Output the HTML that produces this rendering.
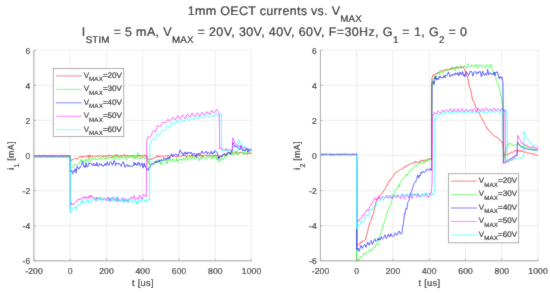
<!DOCTYPE html>
<html><head><meta charset="utf-8"><style>
html,body{margin:0;padding:0;background:#fff;width:550px;height:293px;overflow:hidden}
svg{display:block}
text{font-family:"Liberation Sans",Arial,sans-serif;fill:#262626;text-rendering:geometricPrecision;stroke:#262626;stroke-width:0.18px}
.tl{font-size:8.6px;letter-spacing:0.08px;fill:#333;stroke:#333}
.lg{font-size:8px;letter-spacing:0.02px;fill:#222;stroke:#222}
.lgs{font-size:6.2px;letter-spacing:0.15px}
.ttl{font-size:12.5px;letter-spacing:0.38px;fill:#111;stroke:#111}
.ttl1{letter-spacing:0.3px}
.sub{font-size:9.8px;letter-spacing:0.1px}
.al{font-size:9.3px;letter-spacing:0.28px;fill:#262626}
.als{font-size:7px}
.yl{font-size:9px;letter-spacing:0.22px}
polyline{fill:none;stroke-width:0.65;stroke-linejoin:round}
</style></head><body>
<svg width="550" height="293" viewBox="0 0 550 293">
<defs><filter id="soft" x="0" y="0" width="550" height="293" filterUnits="userSpaceOnUse"><feConvolveMatrix order="3" kernelMatrix="1 2 1 2 24 2 1 2 1" divisor="36" edgeMode="duplicate" preserveAlpha="true"/></filter></defs>
<g filter="url(#soft)">
<rect width="550" height="293" fill="#fff"/>
<path d="M33.90 50.20V260.80M70.17 50.20V260.80M106.43 50.20V260.80M142.70 50.20V260.80M178.97 50.20V260.80M215.23 50.20V260.80M251.50 50.20V260.80M33.90 260.80H251.50M33.90 225.70H251.50M33.90 190.60H251.50M33.90 155.50H251.50M33.90 120.40H251.50M33.90 85.30H251.50M33.90 50.20H251.50" stroke="#e6e6e6" stroke-width="0.7" fill="none"/>
<path d="M320.40 50.20V260.80M356.67 50.20V260.80M392.93 50.20V260.80M429.20 50.20V260.80M465.47 50.20V260.80M501.73 50.20V260.80M538.00 50.20V260.80M320.40 260.80H538.00M320.40 225.70H538.00M320.40 190.60H538.00M320.40 155.50H538.00M320.40 120.40H538.00M320.40 85.30H538.00M320.40 50.20H538.00" stroke="#e6e6e6" stroke-width="0.7" fill="none"/>
<g>
<polyline points="33.90,155.92 34.35,155.85 34.81,155.85 35.26,156.17 35.71,156.09 36.17,155.82 36.62,156.04 37.07,156.02 37.53,155.88 37.98,155.93 38.43,155.98 38.89,155.94 39.34,156.06 39.79,156.16 40.25,156.12 40.70,156.01 41.15,155.93 41.61,156.06 42.06,156.19 42.51,156.18 42.97,156.06 43.42,156.07 43.87,155.87 44.33,155.68 44.78,156.28 45.23,156.72 45.69,156.34 46.14,156.12 46.59,156.06 47.05,155.96 47.50,155.68 47.95,155.88 48.41,156.25 48.86,155.78 49.31,155.62 49.77,155.83 50.22,156.00 50.67,156.35 51.13,156.25 51.58,155.98 52.03,156.19 52.49,156.31 52.94,156.14 53.39,156.18 53.85,156.18 54.30,156.03 54.75,156.01 55.21,156.10 55.66,156.01 56.11,155.80 56.57,155.84 57.02,156.10 57.47,156.04 57.93,155.99 58.38,155.97 58.83,156.06 59.29,156.05 59.74,155.89 60.19,156.22 60.65,156.26 61.10,156.07 61.55,155.98 62.01,156.13 62.46,156.34 62.91,156.16 63.37,156.07 63.82,156.06 64.27,155.88 64.73,156.16 65.18,156.24 65.63,155.80 66.09,155.89 66.54,156.19 66.99,156.04 67.45,155.88 67.90,155.85 68.35,155.94 68.81,156.30 69.26,156.27 69.71,156.11 70.17,155.79 70.26,159.89 70.62,160.73 71.07,161.21 71.53,160.08 71.98,159.23 72.43,159.82 72.89,160.06 73.34,159.38 73.79,158.95 74.25,158.54 74.70,158.40 75.15,158.59 75.61,158.74 76.06,158.19 76.51,158.98 76.97,159.42 77.42,158.34 77.87,158.65 78.33,158.28 78.78,157.71 79.23,157.25 79.69,156.87 80.14,156.89 80.59,156.26 81.05,156.32 81.50,157.25 81.95,157.99 82.41,156.73 82.86,156.00 83.31,156.91 83.77,156.67 84.22,156.48 84.67,156.23 85.13,156.17 85.58,156.58 86.03,156.92 86.49,156.60 86.94,156.60 87.39,156.39 87.85,155.16 88.30,156.02 88.75,157.76 89.21,156.89 89.66,154.80 90.11,155.53 90.57,157.15 91.02,156.38 91.47,156.11 91.93,156.49 92.38,156.19 92.83,155.77 93.29,155.88 93.74,156.07 94.19,156.06 94.65,156.62 95.10,156.61 95.55,156.56 96.01,156.33 96.46,156.31 96.91,156.71 97.37,155.69 97.82,155.33 98.27,156.06 98.73,155.90 99.18,156.09 99.63,156.31 100.09,155.86 100.54,155.55 100.99,156.13 101.45,155.89 101.90,155.73 102.35,156.62 102.81,156.84 103.26,156.64 103.71,155.52 104.17,155.77 104.62,156.30 105.07,156.62 105.53,156.60 105.98,155.36 106.43,155.55 106.89,156.28 107.34,156.17 107.79,155.67 108.25,155.39 108.70,154.76 109.15,154.86 109.61,155.86 110.06,155.96 110.51,155.83 110.97,155.81 111.42,155.87 111.87,155.93 112.33,156.63 112.78,156.26 113.23,155.70 113.69,156.46 114.14,155.85 114.59,154.82 115.05,154.96 115.50,155.54 115.95,156.23 116.41,155.16 116.86,154.31 117.31,155.93 117.77,156.55 118.22,155.93 118.67,156.19 119.13,156.23 119.58,155.85 120.03,155.48 120.49,154.96 120.94,156.67 121.39,156.97 121.85,156.42 122.30,155.87 122.75,155.02 123.21,155.25 123.66,155.86 124.11,155.40 124.57,154.16 125.02,155.48 125.47,156.15 125.93,155.89 126.38,155.96 126.83,156.12 127.29,155.23 127.74,155.16 128.19,156.17 128.65,155.63 129.10,155.86 129.55,156.24 130.01,156.12 130.46,155.98 130.91,156.15 131.37,156.18 131.82,155.73 132.27,155.77 132.73,155.74 133.18,155.81 133.63,155.59 134.09,155.61 134.54,155.89 134.99,155.95 135.45,156.02 135.90,156.18 136.35,155.77 136.81,155.80 137.26,156.42 137.71,155.87 138.17,155.46 138.62,155.71 139.07,156.65 139.53,156.21 139.98,155.15 140.43,155.85 140.89,155.72 141.34,155.50 141.79,156.39 142.25,156.13 142.70,155.76 143.15,155.63 143.61,156.14 144.06,155.36 144.51,154.84 144.97,156.27 145.42,155.83 145.87,155.41 146.33,155.62 146.78,155.69 147.23,155.82 147.69,159.29 147.78,160.32 148.14,159.92 148.59,159.52 149.05,159.91 149.50,159.55 149.95,158.89 150.41,158.92 150.86,159.38 151.31,158.90 151.77,159.01 152.22,159.44 152.67,158.39 153.13,158.26 153.58,158.04 154.03,157.38 154.49,156.91 154.94,157.18 155.39,157.73 155.85,157.14 156.30,157.77 156.75,156.45 157.21,155.55 157.66,157.04 158.11,156.35 158.57,156.08 159.02,157.24 159.47,156.98 159.93,155.89 160.38,156.22 160.83,156.56 161.29,156.07 161.74,156.24 162.19,156.18 162.65,155.79 163.10,156.35 163.55,157.11 164.01,157.00 164.46,156.81 164.91,156.20 165.37,155.67 165.82,155.67 166.27,155.58 166.73,155.79 167.18,156.27 167.63,156.17 168.09,155.16 168.54,155.66 168.99,156.64 169.45,156.48 169.90,156.34 170.35,156.48 170.81,156.12 171.26,156.01 171.71,155.53 172.17,155.49 172.62,156.05 173.07,155.71 173.53,155.88 173.98,155.58 174.43,155.63 174.89,156.50 175.34,156.34 175.79,156.13 176.25,156.65 176.70,156.70 177.15,156.89 177.61,156.28 178.06,155.51 178.51,156.29 178.97,156.54 179.42,156.34 179.87,156.08 180.33,156.44 180.78,156.82 181.23,156.54 181.69,156.45 182.14,155.89 182.59,155.09 183.05,155.39 183.50,155.58 183.95,156.08 184.41,156.09 184.86,155.62 185.31,155.77 185.77,155.15 186.22,156.37 186.67,156.84 187.13,156.25 187.58,156.01 188.03,156.01 188.49,156.47 188.94,155.90 189.39,155.51 189.85,155.65 190.30,156.33 190.75,156.56 191.21,155.75 191.66,155.42 192.11,156.42 192.57,155.97 193.02,155.14 193.47,155.21 193.93,155.61 194.38,155.71 194.83,156.09 195.29,156.10 195.74,155.77 196.19,155.63 196.65,154.90 197.10,155.46 197.55,155.99 198.01,155.74 198.46,155.29 198.91,155.09 199.37,156.11 199.82,156.13 200.27,155.20 200.73,154.39 201.18,155.33 201.63,156.49 202.09,155.29 202.54,155.72 202.99,156.89 203.45,156.17 203.90,155.15 204.35,155.56 204.81,155.67 205.26,155.25 205.71,154.75 206.17,154.88 206.62,155.19 207.07,155.66 207.53,156.24 207.98,155.93 208.43,155.27 208.89,154.89 209.34,155.60 209.79,155.46 210.25,154.81 210.70,155.23 211.15,155.75 211.61,155.87 212.06,156.56 212.51,156.36 212.97,155.44 213.42,155.80 213.87,155.49 214.33,155.61 214.78,156.23 215.23,155.93 215.69,154.93 216.14,155.49 216.59,156.16 217.05,154.99 217.50,154.97 217.95,154.78 218.41,156.74 218.50,158.49 218.86,157.56 219.31,157.00 219.77,157.37 220.22,157.26 220.67,156.57 221.13,155.52 221.58,155.99 222.03,155.70 222.49,155.07 222.94,155.24 223.39,155.11 223.85,155.04 224.30,154.70 224.75,154.38 225.21,154.69 225.66,154.14 226.11,153.97 226.57,154.13 227.02,153.53 227.47,152.89 227.93,153.30 228.38,153.21 228.83,152.94 229.29,153.79 229.74,154.12 230.19,153.64 230.65,153.18 231.10,153.74 231.55,154.09 232.01,153.79 232.46,153.62 232.91,152.94 233.37,152.09 233.82,152.29 234.27,152.71 234.73,153.19 235.18,153.25 235.63,152.62 236.09,151.66 236.54,151.74 236.99,152.87 237.45,153.35 237.90,153.54 238.35,153.98 238.81,153.78 239.26,153.29 239.71,152.36 240.17,152.35 240.62,152.54 241.07,151.91 241.53,152.56 241.98,152.74 242.43,152.57 242.89,153.45 243.34,153.57 243.79,153.32 244.25,153.46 244.70,153.48 245.15,153.37 245.61,153.21 246.06,153.75 246.51,154.05 246.97,154.42 247.42,154.26 247.87,153.27 248.33,153.24 248.78,153.32 249.23,153.08 249.69,153.59 250.14,154.05 250.59,153.65 251.05,153.23 251.50,153.34" stroke="#ff0000"/>
<polyline points="33.90,157.28 34.35,157.31 34.81,157.40 35.26,157.68 35.71,157.35 36.17,156.81 36.62,157.13 37.07,157.19 37.53,157.10 37.98,157.30 38.43,157.19 38.89,157.15 39.34,157.35 39.79,157.42 40.25,157.31 40.70,157.20 41.15,157.19 41.61,157.26 42.06,157.33 42.51,157.37 42.97,157.26 43.42,157.10 43.87,157.18 44.33,157.14 44.78,157.35 45.23,157.29 45.69,156.83 46.14,157.19 46.59,157.76 47.05,157.74 47.50,157.35 47.95,157.11 48.41,157.07 48.86,156.98 49.31,157.11 49.77,157.18 50.22,157.24 50.67,157.15 51.13,157.29 51.58,157.49 52.03,157.28 52.49,156.95 52.94,157.10 53.39,157.53 53.85,157.50 54.30,157.19 54.75,157.14 55.21,157.09 55.66,157.34 56.11,157.37 56.57,156.93 57.02,157.31 57.47,157.45 57.93,157.05 58.38,157.06 58.83,157.09 59.29,156.75 59.74,156.86 60.19,157.26 60.65,157.41 61.10,157.27 61.55,157.19 62.01,157.31 62.46,157.30 62.91,157.17 63.37,157.32 63.82,157.65 64.27,157.85 64.73,157.44 65.18,157.06 65.63,157.02 66.09,157.03 66.54,157.37 66.99,157.29 67.45,157.19 67.90,157.46 68.35,157.58 68.81,157.12 69.26,156.94 69.71,157.14 70.17,157.60 70.26,169.26 70.62,167.82 71.07,166.69 71.53,167.31 71.98,167.35 72.43,167.56 72.89,167.40 73.34,165.87 73.79,166.00 74.25,165.10 74.70,164.30 75.15,164.78 75.61,165.01 76.06,165.40 76.51,164.81 76.97,164.78 77.42,164.69 77.87,164.21 78.33,163.63 78.78,164.07 79.23,163.73 79.69,162.29 79.96,161.44 80.14,161.36 80.59,159.91 81.05,159.67 81.50,161.45 81.95,159.76 82.41,160.38 82.86,161.37 83.31,161.57 83.77,162.32 84.22,162.62 84.67,161.71 85.13,159.81 85.58,160.91 86.03,159.77 86.49,158.70 86.94,160.25 87.39,161.44 87.85,161.03 88.30,160.09 88.75,159.00 89.21,158.15 89.66,159.51 89.93,160.73 90.11,160.75 90.57,161.68 91.02,161.54 91.47,160.11 91.93,158.65 92.38,157.10 92.83,158.44 93.29,159.35 93.74,159.38 94.19,158.51 94.65,157.77 95.10,158.53 95.55,158.77 96.01,159.44 96.46,158.87 96.91,158.85 97.37,159.05 97.82,160.05 98.27,159.35 98.73,158.38 99.18,157.11 99.63,156.53 100.09,157.33 100.54,158.54 100.99,159.42 101.45,158.91 101.90,159.21 102.35,158.10 102.81,157.55 103.26,157.55 103.71,157.08 104.17,157.14 104.62,158.15 105.07,159.35 105.53,159.50 105.98,158.18 106.43,158.87 106.89,158.49 107.34,157.39 107.79,158.53 108.25,157.77 108.70,156.64 109.15,156.80 109.61,157.68 110.06,157.52 110.51,156.83 110.97,158.12 111.42,157.94 111.87,156.77 112.33,158.70 112.78,158.59 113.23,157.64 113.69,157.00 114.14,155.75 114.59,157.85 115.05,159.52 115.50,158.26 115.95,157.37 116.41,155.88 116.86,154.77 117.31,156.56 117.77,157.07 118.22,158.81 118.67,159.23 119.13,156.59 119.58,156.58 120.03,157.42 120.49,156.75 120.94,155.05 121.39,155.72 121.85,158.49 122.30,157.50 122.75,157.70 123.21,158.05 123.66,156.65 124.11,156.47 124.57,157.06 125.02,157.13 125.47,156.62 125.93,158.71 126.38,160.10 126.83,158.61 127.29,155.70 127.74,155.74 128.19,157.07 128.65,157.73 129.10,157.46 129.55,156.60 130.01,156.57 130.46,157.24 130.91,156.40 131.37,154.96 131.82,157.28 132.27,156.93 132.73,155.36 133.18,157.14 133.63,158.79 134.09,157.52 134.54,155.72 134.99,157.08 135.45,159.28 135.90,158.33 136.35,157.15 136.81,158.00 137.26,154.95 137.71,152.54 138.17,154.37 138.62,156.76 139.07,157.38 139.53,159.08 139.98,159.11 140.43,157.54 140.89,158.24 141.34,158.72 141.79,157.69 142.25,156.77 142.70,157.44 143.15,156.89 143.61,157.28 144.06,158.51 144.51,158.85 144.97,158.23 145.42,156.64 145.87,156.88 146.33,157.35 146.78,157.94 147.23,158.42 147.69,162.83 147.78,164.38 148.14,161.99 148.59,160.64 149.05,163.00 149.50,164.59 149.95,164.30 150.41,164.39 150.86,163.56 151.31,163.01 151.77,163.39 152.22,163.51 152.67,163.93 153.13,164.50 153.58,165.35 154.03,164.63 154.49,163.50 154.94,162.54 155.39,161.96 155.85,160.87 156.30,160.62 156.75,162.34 157.21,162.17 157.66,162.07 158.11,161.07 158.57,159.67 159.02,162.10 159.47,162.26 159.93,160.91 160.38,163.87 160.83,164.64 161.29,162.50 161.74,163.00 162.19,163.21 162.65,162.79 163.10,161.92 163.55,161.29 164.01,159.70 164.46,159.82 164.91,160.55 165.37,159.76 165.82,160.44 166.27,161.75 166.73,163.79 167.18,163.83 167.63,161.57 168.09,159.32 168.54,159.02 168.99,159.45 169.45,160.80 169.90,160.35 170.35,159.00 170.81,160.94 171.26,161.60 171.71,161.54 172.17,159.91 172.62,158.49 173.07,160.02 173.53,160.33 173.98,160.22 174.43,160.91 174.89,161.76 175.34,161.98 175.79,161.91 176.25,160.48 176.70,157.71 177.15,159.70 177.61,161.63 178.06,159.80 178.51,160.22 178.97,159.92 179.42,159.55 179.87,158.94 180.33,158.86 180.78,160.03 181.23,159.35 181.69,159.32 182.14,160.79 182.59,160.41 183.05,158.10 183.50,158.09 183.95,158.85 184.41,159.96 184.86,160.14 185.31,158.31 185.77,157.96 186.22,156.62 186.67,156.73 187.13,159.36 187.58,160.80 188.03,159.43 188.49,158.09 188.94,157.77 189.39,156.94 189.85,156.04 190.30,155.58 190.75,157.47 191.21,158.59 191.66,157.79 192.11,158.58 192.57,157.87 193.02,155.54 193.47,155.55 193.93,156.99 194.38,157.86 194.83,158.91 195.29,159.24 195.74,158.43 196.19,158.01 196.65,157.54 197.10,157.31 197.55,156.38 198.01,157.99 198.46,158.55 198.91,159.01 199.37,161.01 199.82,159.16 200.27,157.07 200.73,156.80 201.18,158.46 201.63,159.22 202.09,158.21 202.54,156.87 202.99,156.65 203.45,156.81 203.90,157.14 204.35,158.06 204.81,158.02 205.26,157.70 205.71,158.32 206.17,159.12 206.62,157.50 207.07,155.07 207.53,155.11 207.98,156.63 208.43,157.57 208.89,157.32 209.34,156.59 209.79,155.69 210.25,155.46 210.70,157.14 211.15,157.98 211.61,158.38 212.06,159.26 212.51,157.87 212.97,155.97 213.42,157.51 213.87,156.34 214.33,154.78 214.78,157.27 215.23,157.52 215.69,157.18 216.14,158.30 216.59,159.35 217.05,158.31 217.41,156.24 217.50,158.59 217.95,160.24 218.41,160.11 218.50,161.38 218.86,161.79 219.31,161.66 219.77,162.03 220.22,161.35 220.67,158.90 221.13,158.99 221.58,159.61 222.03,158.36 222.49,159.11 222.94,159.62 223.39,159.55 223.85,159.12 224.30,157.27 224.75,155.60 225.21,156.31 225.66,154.21 226.11,153.97 226.57,156.33 227.02,155.49 227.47,155.31 227.93,153.54 228.38,153.25 228.83,153.41 229.29,152.34 229.74,154.37 230.19,154.29 230.65,153.40 231.10,151.50 231.55,150.71 232.01,153.46 232.46,154.84 232.91,155.30 233.37,154.45 233.82,154.03 234.27,154.18 234.73,153.59 235.18,152.43 235.63,151.13 236.09,152.70 236.54,154.67 236.99,154.42 237.45,154.81 237.90,154.70 238.35,153.87 238.81,152.16 239.26,152.02 239.71,153.41 240.17,153.19 240.62,152.65 241.07,152.94 241.53,152.50 241.98,152.61 242.43,152.51 242.89,151.91 243.34,153.13 243.79,154.85 244.25,153.19 244.70,151.82 245.15,150.27 245.61,150.49 246.06,152.53 246.51,152.77 246.97,153.65 247.42,153.03 247.87,153.49 248.33,153.86 248.78,152.75 249.23,152.39 249.69,152.47 250.14,152.17 250.59,152.39 251.05,153.11 251.50,153.67" stroke="#00ff00"/>
<polyline points="33.90,155.66 34.35,156.10 34.81,156.35 35.26,156.05 35.71,156.18 36.17,156.13 36.62,156.36 37.07,156.37 37.53,156.19 37.98,155.66 38.43,155.49 38.89,156.05 39.34,156.12 39.79,156.17 40.25,156.29 40.70,156.24 41.15,156.01 41.61,155.99 42.06,155.92 42.51,155.91 42.97,156.05 43.42,155.79 43.87,155.71 44.33,156.02 44.78,156.13 45.23,155.97 45.69,155.65 46.14,155.78 46.59,156.10 47.05,155.91 47.50,156.01 47.95,156.20 48.41,155.94 48.86,155.81 49.31,155.93 49.77,155.91 50.22,156.35 50.67,156.30 51.13,156.02 51.58,156.42 52.03,156.24 52.49,155.88 52.94,155.99 53.39,156.26 53.85,156.18 54.30,156.03 54.75,155.82 55.21,155.70 55.66,155.88 56.11,155.83 56.57,155.89 57.02,156.20 57.47,156.08 57.93,155.85 58.38,155.97 58.83,156.18 59.29,156.11 59.74,156.37 60.19,156.30 60.65,155.85 61.10,156.20 61.55,156.26 62.01,156.16 62.46,156.06 62.91,156.22 63.37,156.47 63.82,156.06 64.27,155.75 64.73,156.18 65.18,156.43 65.63,156.05 66.09,156.07 66.54,155.88 66.99,155.97 67.45,156.15 67.90,156.13 68.35,155.97 68.81,155.82 69.26,156.09 69.71,156.34 70.17,156.57 70.26,171.50 70.62,171.69 71.07,170.35 71.53,170.29 71.98,172.28 72.43,173.63 72.89,173.91 73.34,170.76 73.79,170.48 74.25,171.54 74.70,170.22 75.06,169.54 75.15,168.71 75.61,170.64 76.06,173.04 76.51,171.08 76.97,167.40 77.42,165.93 77.87,167.35 78.33,168.88 78.78,169.23 79.23,168.89 79.69,167.67 79.96,167.81 80.14,168.01 80.59,166.36 81.05,165.83 81.50,165.38 81.95,163.23 82.41,161.48 82.86,161.99 83.31,165.02 83.77,166.92 84.22,166.04 84.67,165.71 85.13,167.77 85.58,166.56 86.03,162.60 86.49,164.55 86.94,166.98 87.39,167.04 87.85,166.56 88.30,165.15 88.75,162.53 89.21,162.80 89.66,163.63 90.11,163.81 90.57,163.35 91.02,163.30 91.47,163.41 91.93,164.68 92.38,165.68 92.83,165.26 93.29,164.08 93.74,163.13 94.19,165.49 94.65,166.04 95.10,164.66 95.55,164.33 96.01,165.92 96.46,165.27 96.91,162.37 97.37,163.32 97.82,165.80 98.27,166.16 98.73,166.36 99.18,165.12 99.63,163.44 100.09,164.51 100.54,164.93 100.99,164.24 101.45,163.86 101.90,165.19 102.35,166.34 102.81,165.22 103.26,166.10 103.71,166.27 104.17,165.73 104.62,165.00 105.07,163.28 105.53,163.90 105.98,165.47 106.43,164.62 106.89,163.23 107.34,161.75 107.79,163.95 108.25,165.09 108.70,164.00 109.15,165.28 109.61,164.02 110.06,162.47 110.51,161.70 110.97,162.15 111.42,162.13 111.87,163.14 112.33,165.48 112.78,164.16 113.23,164.01 113.69,162.07 114.14,160.29 114.59,160.84 115.05,162.46 115.50,165.63 115.95,164.89 116.41,163.19 116.86,163.39 117.31,163.89 117.77,163.87 118.22,163.18 118.67,164.11 119.13,164.12 119.58,163.54 120.03,165.01 120.49,165.59 120.94,166.46 121.39,166.21 121.85,163.98 122.30,163.46 122.75,163.37 123.21,161.58 123.66,162.57 124.11,164.66 124.57,165.84 125.02,167.38 125.47,165.82 125.93,165.47 126.38,165.60 126.83,164.46 127.29,164.61 127.74,165.18 128.19,166.66 128.65,165.72 129.10,164.96 129.55,165.84 130.01,165.85 130.46,166.21 130.91,166.42 131.37,166.41 131.82,165.68 132.27,166.31 132.73,166.68 133.18,166.13 133.63,165.24 134.09,162.39 134.54,164.79 134.99,165.21 135.45,162.97 135.90,164.58 136.35,164.32 136.81,164.13 137.26,165.81 137.71,164.89 137.99,162.81 138.17,162.30 138.62,163.72 139.07,164.01 139.53,162.81 139.98,165.15 140.43,166.24 140.89,164.83 141.34,164.41 141.79,163.20 142.25,163.21 142.70,166.81 143.15,168.06 143.61,166.76 144.06,163.30 144.51,163.25 144.97,166.25 145.06,165.71 145.42,167.06 145.87,166.75 146.33,167.85 146.78,169.76 147.23,169.41 147.69,168.68 148.14,170.37 148.59,168.53 149.05,166.75 149.50,166.96 149.95,166.52 150.41,166.79 150.86,165.70 151.31,164.46 151.77,164.30 152.22,164.12 152.67,163.76 153.13,164.06 153.58,163.42 154.03,162.48 154.49,162.60 154.94,162.44 155.03,161.45 155.39,161.84 155.85,163.06 156.30,162.77 156.75,161.15 157.21,161.34 157.66,162.29 158.11,161.76 158.57,160.35 159.02,161.25 159.47,161.92 159.93,159.80 160.38,160.75 160.83,160.64 161.29,159.52 161.74,160.55 162.19,160.37 162.65,160.65 163.10,160.78 163.55,158.33 164.01,158.67 164.46,158.76 164.91,158.19 165.37,158.81 165.82,158.25 166.27,160.04 166.73,159.96 167.18,157.71 167.63,157.66 168.09,158.77 168.54,157.69 168.99,157.20 169.45,158.68 169.90,158.55 170.08,156.52 170.35,156.12 170.81,155.64 171.26,153.78 171.71,154.00 172.17,155.75 172.62,156.80 173.07,156.12 173.53,154.66 173.98,154.55 174.43,154.52 174.89,154.60 175.34,154.35 175.79,153.95 176.25,153.97 176.70,154.61 177.15,155.61 177.61,155.13 178.06,154.90 178.51,155.28 178.97,153.59 179.42,152.72 179.87,150.85 180.33,149.85 180.78,152.28 181.23,152.65 181.69,152.21 182.14,153.52 182.59,153.25 183.05,153.31 183.50,156.02 183.95,154.63 184.41,152.62 184.86,151.87 185.31,152.00 185.77,154.17 186.22,152.86 186.67,153.05 187.13,154.27 187.58,152.25 188.03,152.05 188.49,152.98 188.94,152.83 189.39,152.06 189.85,153.08 190.30,153.60 190.75,152.97 191.21,152.11 191.66,152.96 192.11,155.11 192.57,154.18 193.02,153.65 193.47,153.80 193.93,153.53 194.38,153.26 194.83,154.19 195.29,155.45 195.74,156.96 196.19,157.31 196.65,154.01 197.10,153.49 197.55,154.72 198.01,154.73 198.46,153.92 198.91,153.07 199.37,154.49 199.82,154.29 200.27,153.36 200.73,152.92 201.18,153.19 201.63,152.12 202.09,150.99 202.54,152.11 202.99,153.04 203.45,153.39 203.90,152.67 204.35,152.95 204.81,152.79 205.26,151.92 205.71,151.46 206.17,151.03 206.62,151.78 207.07,153.83 207.53,153.84 207.98,152.17 208.43,152.53 208.89,152.96 209.34,153.20 209.79,153.61 210.25,153.68 210.70,152.17 211.15,151.18 211.61,152.77 212.06,154.09 212.51,154.12 212.97,152.40 213.42,152.06 213.87,153.34 214.33,152.39 214.78,150.59 215.23,150.64 215.69,151.22 216.14,151.46 216.59,152.01 217.05,152.66 217.41,153.90 217.50,153.87 217.95,155.23 218.41,156.79 218.50,158.80 218.86,159.28 219.31,156.54 219.77,156.71 220.22,156.99 220.67,156.16 221.13,156.02 221.58,156.89 222.03,157.29 222.49,155.60 222.94,154.00 223.39,154.08 223.85,154.36 224.30,153.87 224.75,153.23 225.21,154.17 225.66,155.91 226.11,155.11 226.57,154.72 227.02,154.75 227.47,153.42 227.93,152.17 228.38,152.51 228.83,152.18 229.29,152.72 229.74,152.95 230.19,152.90 230.65,154.30 231.10,152.33 231.55,151.28 232.01,151.87 232.10,151.81 232.46,145.20 232.64,142.07 232.91,142.73 233.37,142.90 233.82,144.34 234.27,146.38 234.73,147.20 235.18,146.81 235.63,145.73 236.09,145.65 236.54,146.38 236.99,147.41 237.45,147.05 237.90,147.74 238.35,148.29 238.81,148.01 239.26,149.42 239.71,149.93 240.17,149.31 240.62,147.80 241.07,145.65 241.53,146.75 241.98,148.85 242.43,150.72 242.89,150.90 243.34,149.58 243.79,150.76 244.25,149.98 244.70,150.12 245.15,150.62 245.61,149.19 246.06,149.88 246.51,149.68 246.97,148.34 247.42,150.26 247.87,152.33 248.33,150.96 248.78,149.76 249.23,150.84 249.69,150.82 250.14,149.82 250.59,149.87 251.05,149.51 251.50,149.45" stroke="#0000ff"/>
<polyline points="33.90,155.51 34.35,155.62 34.81,155.28 35.26,155.15 35.71,155.65 36.17,155.75 36.62,155.59 37.07,155.57 37.53,155.72 37.98,155.71 38.43,155.43 38.89,155.23 39.34,155.22 39.79,155.38 40.25,155.65 40.70,155.39 41.15,155.45 41.61,155.62 42.06,155.38 42.51,155.68 42.97,155.73 43.42,155.70 43.87,155.54 44.33,155.46 44.78,155.29 45.23,155.55 45.69,155.78 46.14,155.63 46.59,155.52 47.05,155.70 47.50,155.87 47.95,155.52 48.41,155.69 48.86,155.58 49.31,155.32 49.77,155.32 50.22,155.20 50.67,155.50 51.13,155.77 51.58,155.65 52.03,155.42 52.49,155.26 52.94,155.48 53.39,155.70 53.85,155.71 54.30,155.71 54.75,155.62 55.21,155.56 55.66,155.21 56.11,155.27 56.57,155.62 57.02,155.47 57.47,155.57 57.93,155.70 58.38,155.55 58.83,155.38 59.29,155.58 59.74,155.49 60.19,155.35 60.65,155.53 61.10,155.35 61.55,155.27 62.01,155.24 62.46,155.31 62.91,155.48 63.37,155.46 63.82,155.60 64.27,155.47 64.73,155.43 65.18,155.81 65.63,155.38 66.09,155.21 66.54,155.70 66.99,155.40 67.45,155.27 67.90,155.39 68.35,155.47 68.81,155.66 69.26,155.79 69.71,156.04 70.17,157.33 70.26,205.90 70.62,204.43 71.07,202.35 71.53,203.86 71.98,205.01 72.43,203.95 72.89,204.20 73.34,204.22 73.79,204.61 74.25,203.46 74.70,203.22 75.15,202.73 75.61,202.48 76.06,201.59 76.51,200.75 76.97,201.10 77.42,199.73 77.87,198.89 78.33,199.31 78.78,199.69 79.23,199.91 79.69,199.10 80.14,198.50 80.59,199.24 81.05,198.81 81.50,199.01 81.95,198.70 82.41,198.87 82.86,197.63 83.31,196.54 83.77,197.66 84.22,197.39 84.67,197.70 85.13,198.64 85.58,197.33 86.03,196.70 86.49,198.12 86.94,197.54 87.39,198.16 87.85,197.53 88.30,196.65 88.75,198.36 89.21,196.73 89.66,194.95 90.11,196.40 90.57,197.34 91.02,196.22 91.47,195.02 91.93,196.28 92.38,197.94 92.83,197.20 93.29,197.47 93.74,198.24 94.19,197.64 94.65,198.88 95.10,199.78 95.55,200.70 96.01,200.03 96.46,197.12 96.91,198.21 97.37,198.68 97.82,197.31 98.27,198.47 98.73,198.98 99.18,198.54 99.63,198.92 100.09,198.90 100.54,198.33 100.99,197.97 101.45,197.66 101.90,199.16 102.35,199.51 102.81,199.35 103.26,199.85 103.71,198.57 104.17,198.13 104.62,198.22 105.07,198.36 105.53,199.09 105.98,200.23 106.43,200.32 106.89,199.22 107.34,198.81 107.79,197.70 108.25,197.12 108.70,200.83 109.15,201.34 109.61,197.88 110.06,197.89 110.51,200.00 110.97,201.11 111.42,199.60 111.87,197.73 112.33,197.95 112.78,198.10 113.23,197.15 113.69,197.07 114.14,199.66 114.59,200.09 115.05,199.31 115.50,200.42 115.95,199.61 116.41,199.17 116.86,201.91 117.31,200.33 117.77,196.87 118.22,198.64 118.67,200.19 119.13,200.28 119.58,201.42 120.03,201.45 120.49,200.26 120.94,200.48 121.39,200.74 121.85,200.68 122.30,199.11 122.75,197.83 123.21,198.71 123.66,200.24 124.11,201.76 124.57,200.94 125.02,198.45 125.47,199.95 125.93,199.88 126.38,199.90 126.83,201.43 127.29,199.58 127.74,200.70 128.19,202.54 128.65,201.38 129.10,198.97 129.55,199.08 130.01,198.26 130.46,198.08 130.91,197.60 131.37,197.12 131.82,198.64 132.27,198.50 132.73,198.70 133.18,197.53 133.63,195.53 134.09,196.17 134.54,197.70 134.99,198.70 135.45,199.32 135.90,198.60 136.35,198.33 136.81,198.65 137.26,198.82 137.71,197.94 138.17,198.63 138.62,199.45 139.07,196.98 139.53,195.12 139.98,196.73 140.43,196.60 140.89,196.95 141.34,198.47 141.79,199.38 142.25,198.01 142.70,196.05 143.15,195.40 143.61,194.35 144.06,195.12 144.51,195.81 144.97,195.14 145.42,195.64 145.87,197.00 146.33,196.48 146.60,141.31 146.78,140.54 147.23,138.88 147.69,137.75 148.14,136.69 148.59,136.88 149.05,137.10 149.50,136.95 149.95,136.72 150.41,136.78 150.86,136.50 151.31,135.26 151.77,133.82 152.22,132.80 152.67,131.72 153.13,131.07 153.58,130.49 154.03,130.41 154.49,131.04 154.94,131.55 155.39,132.26 155.85,130.89 156.30,129.41 156.75,127.93 157.03,127.39 157.21,127.03 157.66,125.33 158.11,125.36 158.57,125.87 159.02,126.24 159.47,126.75 159.93,126.78 160.38,126.63 160.83,125.83 161.29,125.16 161.74,123.65 162.19,122.92 162.65,122.12 163.10,121.99 163.55,122.52 164.01,122.49 164.46,122.50 164.91,122.56 165.37,122.48 165.82,121.91 166.27,121.40 166.73,120.90 167.18,119.93 167.63,119.53 168.09,119.55 168.54,119.68 168.99,120.89 169.45,121.37 169.90,121.42 170.35,120.80 170.81,120.22 171.26,119.53 171.71,118.55 172.17,118.01 172.62,117.21 173.07,117.49 173.53,118.45 173.98,118.72 174.07,118.83 174.43,119.56 174.89,120.06 175.34,119.95 175.79,119.07 176.25,117.89 176.70,117.24 177.15,116.67 177.61,115.61 178.06,116.38 178.51,117.41 178.97,117.70 179.42,118.48 179.87,119.16 180.33,118.52 180.78,117.67 181.23,116.69 181.69,116.31 182.14,115.18 182.59,114.90 183.05,115.96 183.50,116.80 183.95,117.48 184.41,117.91 184.86,118.23 185.31,117.14 185.77,116.72 186.22,116.29 186.67,114.86 187.13,113.93 187.58,114.35 188.03,114.63 188.49,115.29 188.94,116.20 189.39,116.94 189.85,116.80 190.30,115.74 190.75,115.56 191.12,115.06 191.21,115.01 191.66,114.09 192.11,112.85 192.57,113.67 193.02,114.59 193.47,115.65 193.93,116.00 194.38,116.23 194.83,116.41 195.29,115.42 195.74,114.72 196.19,114.27 196.65,113.49 197.10,113.06 197.55,112.92 198.01,113.28 198.46,114.62 198.91,114.99 199.37,116.34 199.82,116.20 200.27,114.63 200.73,114.08 201.18,113.18 201.63,112.66 202.09,112.44 202.54,112.36 202.99,113.57 203.45,114.80 203.90,114.93 204.35,115.23 204.81,114.70 205.26,113.83 205.71,112.83 206.17,112.48 206.62,111.78 207.07,111.71 207.53,112.86 207.98,113.79 208.34,113.54 208.43,113.09 208.89,113.48 209.34,114.29 209.79,114.06 210.25,112.80 210.70,111.94 211.15,111.09 211.61,110.21 212.06,110.70 212.51,111.94 212.97,112.65 213.42,112.25 213.87,112.44 214.33,112.71 214.78,112.24 215.23,111.82 215.69,111.22 216.14,110.40 216.59,109.48 217.05,110.09 217.50,110.42 217.95,111.50 218.41,112.51 218.86,113.40 219.22,113.47 219.31,119.17 219.77,148.72 220.22,148.59 220.67,147.88 221.13,147.97 221.58,148.90 222.03,149.41 222.49,149.31 222.94,149.45 223.39,150.07 223.85,150.00 224.30,149.78 224.75,150.09 225.21,150.11 225.66,149.07 226.11,150.01 226.57,150.10 227.02,148.68 227.47,149.65 227.93,150.43 228.38,150.90 228.83,151.04 229.29,150.46 229.74,150.35 230.19,150.47 230.65,150.82 231.10,150.65 231.55,150.73 232.01,150.94 232.28,150.80 232.46,146.80 232.82,138.34 232.91,137.90 233.37,139.79 233.82,140.83 234.27,141.08 234.73,142.55 235.18,143.73 235.63,144.19 236.09,144.50 236.54,144.57 236.99,145.36 237.45,145.58 237.90,145.70 238.35,146.16 238.81,145.65 239.26,146.50 239.71,146.66 240.17,145.51 240.62,146.45 241.07,147.43 241.53,147.59 241.98,147.94 242.43,148.01 242.89,148.29 243.34,147.94 243.79,147.38 244.25,147.94 244.70,147.88 245.15,147.62 245.61,148.17 246.06,149.14 246.51,148.57 246.97,147.64 247.42,149.31 247.87,150.29 248.33,149.58 248.78,148.91 249.23,148.38 249.69,149.11 250.14,149.75 250.59,149.42 251.05,150.02 251.50,150.01" stroke="#ff00ff"/>
<polyline points="33.90,157.62 34.35,157.57 34.81,157.49 35.26,157.23 35.71,157.02 36.17,157.07 36.62,157.32 37.07,157.46 37.53,157.26 37.98,156.90 38.43,156.97 38.89,157.40 39.34,157.58 39.79,157.16 40.25,156.98 40.70,157.49 41.15,157.53 41.61,157.44 42.06,157.52 42.51,157.42 42.97,157.44 43.42,157.28 43.87,157.18 44.33,157.35 44.78,157.28 45.23,157.07 45.69,157.38 46.14,157.54 46.59,157.44 47.05,157.43 47.50,157.48 47.95,157.45 48.41,157.26 48.86,157.31 49.31,157.46 49.77,157.47 50.22,157.48 50.67,157.62 51.13,157.43 51.58,157.39 52.03,157.25 52.49,156.97 52.94,157.45 53.39,157.51 53.85,157.38 54.30,157.42 54.75,157.24 55.21,157.55 55.66,157.59 56.11,157.33 56.57,157.15 57.02,157.29 57.47,157.32 57.93,157.31 58.38,157.47 58.83,157.43 59.29,157.16 59.74,156.95 60.19,156.80 60.65,156.79 61.10,157.03 61.55,157.00 62.01,157.22 62.46,157.36 62.91,157.06 63.37,157.11 63.82,157.29 64.27,157.23 64.73,157.17 65.18,157.22 65.63,157.33 66.09,157.24 66.54,157.20 66.99,157.37 67.45,157.25 67.90,157.32 68.35,157.63 68.81,157.63 69.26,157.30 69.71,157.16 70.17,158.22 70.26,212.46 70.62,211.32 71.07,211.26 71.53,212.53 71.98,210.46 72.43,209.71 72.89,209.80 73.34,208.13 73.79,207.82 74.25,207.88 74.70,206.43 75.15,206.84 75.61,209.01 76.06,209.70 76.51,208.14 76.97,206.24 77.42,205.17 77.87,204.58 78.33,205.08 78.78,205.31 79.23,205.37 79.69,204.66 80.14,204.57 80.59,203.94 81.05,201.37 81.50,200.59 81.95,203.01 82.41,201.66 82.86,200.30 83.31,202.76 83.77,202.54 84.22,201.99 84.67,203.20 85.13,203.28 85.58,203.13 86.03,202.11 86.49,199.94 86.94,200.21 87.39,200.99 87.85,199.41 88.30,201.01 88.75,202.59 89.21,201.51 89.66,202.14 90.11,202.27 90.57,200.95 91.02,199.28 91.47,199.95 91.93,200.51 92.38,199.79 92.83,199.92 93.29,199.98 93.74,199.46 94.19,199.40 94.65,197.89 95.10,197.40 95.55,198.71 96.01,198.96 96.46,200.15 96.91,201.34 97.37,200.25 97.82,199.35 98.27,198.34 98.73,198.48 99.18,200.59 99.63,198.61 100.09,196.68 100.54,199.49 100.99,199.58 101.45,199.00 101.90,201.96 102.35,201.96 102.81,200.50 103.26,198.46 103.71,198.32 104.17,199.61 104.62,199.50 105.07,199.93 105.53,200.78 105.98,200.61 106.43,199.00 106.89,198.34 107.34,199.67 107.79,200.81 108.25,199.61 108.70,199.34 109.15,200.33 109.61,201.51 110.06,199.75 110.51,197.97 110.97,200.20 111.42,199.88 111.87,197.63 112.33,200.03 112.78,201.27 113.23,199.99 113.69,199.37 114.14,199.52 114.59,200.62 115.05,200.80 115.50,198.75 115.95,196.58 116.41,198.22 116.86,200.45 117.31,197.74 117.77,198.16 118.22,201.23 118.67,200.76 119.13,200.26 119.58,199.39 120.03,199.14 120.49,200.38 120.94,199.96 121.39,198.70 121.85,197.80 122.30,198.39 122.75,201.43 123.21,202.65 123.66,200.71 124.11,199.97 124.57,202.58 125.02,202.35 125.47,200.35 125.93,198.76 126.38,200.04 126.83,200.91 127.29,199.85 127.74,201.42 128.19,202.39 128.65,200.08 129.10,198.24 129.55,198.73 130.01,199.62 130.46,199.55 130.91,200.38 131.37,201.84 131.82,202.87 132.27,203.23 132.73,202.46 133.18,199.90 133.63,199.73 134.09,200.54 134.54,198.86 134.99,200.33 135.45,200.73 135.90,202.64 136.35,203.80 136.81,201.41 137.26,203.04 137.71,204.28 138.17,200.99 138.62,199.81 139.07,201.44 139.53,201.81 139.98,201.62 140.43,200.98 140.89,200.42 141.34,201.10 141.79,201.59 142.25,200.97 142.70,198.89 143.15,198.12 143.61,198.82 144.06,199.50 144.51,201.37 144.97,202.10 145.42,200.76 145.87,199.65 146.33,200.51 146.78,201.50 147.23,200.22 147.69,198.88 148.14,199.53 148.59,199.87 149.05,199.70 149.50,199.53 149.59,199.04 149.86,145.97 149.95,145.79 150.41,144.36 150.86,143.31 151.31,142.06 151.77,140.38 152.22,139.25 152.67,138.97 153.13,138.83 153.58,139.40 154.03,140.37 154.49,140.10 154.94,139.52 155.39,138.44 155.85,137.58 156.30,136.12 156.75,134.40 157.03,134.15 157.21,133.97 157.66,134.02 158.11,134.28 158.57,134.68 159.02,135.23 159.47,135.15 159.93,134.54 160.38,133.72 160.83,132.56 161.29,132.05 161.74,130.82 162.19,129.27 162.65,129.78 163.10,129.99 163.55,130.47 164.01,130.58 164.46,130.82 164.91,130.75 165.37,129.79 165.82,128.51 166.27,127.11 166.73,126.29 167.18,126.22 167.63,126.23 168.09,126.54 168.54,126.93 168.99,127.10 169.45,128.00 169.90,127.35 170.35,126.06 170.81,124.67 171.26,123.83 171.71,122.81 172.17,121.88 172.62,122.60 173.07,123.84 173.53,124.47 173.98,124.96 174.07,124.94 174.43,125.16 174.89,124.48 175.34,123.31 175.79,122.78 176.25,122.39 176.70,120.38 177.15,119.87 177.61,120.83 178.06,121.55 178.51,121.82 178.97,122.37 179.42,123.01 179.87,122.60 180.33,121.79 180.78,120.81 181.23,120.12 181.69,119.26 182.14,119.47 182.59,119.95 183.05,120.30 183.50,121.13 183.95,121.97 184.41,121.09 184.86,120.19 185.31,119.50 185.77,118.38 186.22,117.50 186.67,116.82 187.13,118.08 187.58,118.91 188.03,119.24 188.49,120.13 188.94,120.73 189.39,120.30 189.85,119.75 190.30,118.53 190.75,117.27 190.93,117.16 191.21,116.93 191.66,116.49 192.11,117.02 192.57,117.66 193.02,118.24 193.47,118.92 193.93,119.47 194.38,118.68 194.83,117.92 195.29,117.46 195.74,116.94 196.19,115.91 196.65,115.69 197.10,116.48 197.55,117.72 198.01,119.06 198.46,119.02 198.91,118.85 199.37,117.82 199.82,116.96 200.27,116.49 200.73,115.91 201.18,115.56 201.63,115.52 202.09,115.98 202.54,116.74 202.99,117.21 203.45,117.93 203.90,118.06 204.35,117.49 204.81,117.05 205.26,116.38 205.71,115.62 206.17,114.22 206.62,114.68 207.07,115.47 207.53,115.84 207.98,116.62 208.43,117.26 208.89,117.67 209.34,116.98 209.79,115.52 210.25,114.99 210.70,114.59 211.15,113.87 211.61,114.40 212.06,115.13 212.51,115.43 212.97,115.88 213.42,117.30 213.87,116.45 214.33,115.01 214.78,114.53 215.23,113.84 215.69,113.37 216.14,113.23 216.59,113.71 217.05,114.16 217.50,114.85 217.95,115.77 218.41,116.86 218.86,116.48 219.31,115.40 219.77,114.30 220.22,113.97 220.67,113.77 221.13,113.33 221.22,113.18 221.58,137.61 221.76,150.23 222.03,150.78 222.49,150.60 222.94,150.51 223.39,151.17 223.85,150.81 224.30,149.86 224.75,150.11 225.21,150.64 225.66,150.73 226.11,149.65 226.57,150.47 227.02,151.06 227.47,150.25 227.93,150.83 228.38,150.78 228.83,150.52 229.29,150.24 229.74,149.77 230.19,150.09 230.65,149.56 231.10,149.46 231.55,149.91 232.01,150.93 232.46,151.92 232.91,150.95 233.37,150.18 233.82,150.46 234.27,150.40 234.73,150.78 235.18,151.18 235.63,151.37 236.09,151.47 236.54,151.35 236.99,151.82 237.45,151.48 237.72,150.37 237.90,144.71 238.08,139.64 238.35,139.22 238.81,139.92 239.26,140.56 239.71,141.32 240.17,143.08 240.62,144.06 241.07,143.86 241.53,144.03 241.98,144.79 242.43,145.20 242.89,146.33 243.34,147.06 243.79,146.26 244.25,146.04 244.70,146.79 245.15,147.19 245.61,147.92 246.06,148.11 246.51,148.33 246.97,148.37 247.42,148.36 247.87,148.79 248.33,148.62 248.78,149.00 249.23,149.24 249.69,149.24 250.14,149.53 250.59,149.23 251.05,150.07 251.50,151.38" stroke="#00ffff"/>
</g>
<g>
<polyline points="320.40,154.53 320.85,154.45 321.31,154.30 321.76,154.53 322.21,154.72 322.67,154.73 323.12,154.62 323.57,154.56 324.03,154.54 324.48,154.76 324.93,154.66 325.39,154.44 325.84,154.55 326.29,154.55 326.75,154.69 327.20,154.61 327.65,154.46 328.11,154.54 328.56,154.67 329.01,154.56 329.47,154.65 329.92,154.92 330.37,154.76 330.83,154.66 331.28,154.95 331.73,154.97 332.19,154.78 332.64,154.83 333.09,154.96 333.55,154.80 334.00,154.51 334.45,154.54 334.91,154.74 335.36,154.67 335.81,154.48 336.27,154.57 336.72,154.59 337.17,154.42 337.63,154.52 338.08,154.75 338.53,154.68 338.99,154.55 339.44,154.45 339.89,154.65 340.35,154.87 340.80,154.81 341.25,154.94 341.71,154.82 342.16,154.54 342.61,154.65 343.07,154.54 343.52,154.35 343.97,154.44 344.43,154.49 344.88,154.45 345.33,154.67 345.79,154.71 346.24,154.47 346.69,154.77 347.15,154.80 347.60,154.61 348.05,154.56 348.51,154.58 348.96,154.68 349.41,154.58 349.87,154.69 350.32,154.66 350.77,154.56 351.23,154.57 351.68,154.63 352.13,154.55 352.59,154.41 353.04,154.57 353.49,154.57 353.95,154.39 354.40,154.24 354.85,154.60 355.31,154.71 355.76,154.45 356.21,154.58 356.67,154.97 356.76,245.45 357.12,245.29 357.57,245.20 358.03,244.09 358.48,244.47 358.93,244.66 359.39,244.27 359.84,243.79 360.29,242.60 360.75,241.74 361.20,242.47 361.65,242.98 362.11,241.89 362.56,240.91 363.01,240.70 363.47,241.12 363.92,240.86 364.37,240.32 364.83,240.17 365.28,240.09 365.37,239.85 365.73,238.14 366.19,236.56 366.64,234.99 367.09,233.63 367.55,231.98 368.00,229.47 368.45,227.64 368.82,227.09 368.91,226.35 369.36,224.41 369.81,222.85 370.27,221.69 370.72,221.17 371.17,220.33 371.63,218.46 372.08,215.88 372.53,215.24 372.99,214.93 373.35,213.43 373.44,213.11 373.89,211.51 374.35,209.48 374.80,207.46 375.25,205.13 375.71,203.31 376.16,201.48 376.61,199.75 377.07,199.37 377.52,199.34 377.97,199.33 378.43,197.85 378.88,197.02 379.33,196.52 379.79,195.60 380.24,194.80 380.69,194.16 381.15,193.69 381.60,193.41 381.69,193.84 382.05,193.48 382.51,192.73 382.96,192.18 383.41,191.51 383.87,190.50 384.32,189.57 384.77,188.96 385.23,188.96 385.68,188.19 386.13,186.83 386.59,185.79 387.04,184.99 387.49,184.85 387.86,184.71 387.95,183.74 388.40,182.56 388.85,181.91 389.31,180.77 389.76,180.89 390.21,180.73 390.67,179.62 391.12,178.86 391.57,178.13 392.03,177.53 392.48,176.93 392.93,176.76 393.39,176.16 393.84,175.21 394.29,174.41 394.75,173.62 394.93,173.18 395.20,172.60 395.65,172.40 396.11,172.26 396.56,172.03 397.01,171.97 397.47,171.75 397.92,171.47 398.37,171.00 398.83,170.54 399.28,170.18 399.73,170.30 400.19,169.91 400.64,169.43 401.09,169.65 401.55,169.17 402.00,168.82 402.45,168.37 402.91,168.07 403.36,168.20 403.81,167.99 404.27,166.95 404.72,166.37 405.08,166.91 405.17,166.88 405.63,166.80 406.08,166.04 406.53,165.84 406.99,166.05 407.44,165.20 407.89,165.60 408.35,165.48 408.80,164.51 409.25,164.26 409.71,164.29 410.16,163.94 410.61,163.78 411.07,163.77 411.52,163.66 411.97,163.37 412.43,163.42 412.88,163.17 413.33,162.84 413.79,163.23 414.24,162.76 414.69,161.68 415.06,161.34 415.15,162.01 415.60,162.00 416.05,161.88 416.51,162.04 416.96,161.78 417.41,162.37 417.87,162.24 418.32,161.74 418.77,161.93 419.23,161.97 419.68,162.13 420.13,161.87 420.59,161.04 421.04,160.12 421.49,160.30 421.95,160.38 422.40,160.36 422.85,161.20 423.31,160.98 423.76,160.14 424.21,160.23 424.67,160.18 425.03,159.79 425.12,160.14 425.57,160.69 426.03,160.41 426.48,159.93 426.93,159.88 427.39,159.42 427.84,158.68 428.29,159.04 428.75,159.27 429.20,158.76 429.65,158.67 430.11,158.56 430.56,158.82 431.01,158.83 431.47,157.99 431.56,157.95 431.92,78.22 432.37,77.11 432.83,75.35 433.01,74.96 433.28,75.37 433.73,74.74 434.19,74.69 434.64,74.75 435.09,74.10 435.55,74.36 436.00,73.71 436.45,72.96 436.91,73.44 437.36,73.10 437.81,72.60 438.27,73.12 438.72,72.94 439.17,71.99 439.63,71.31 439.90,71.18 440.08,71.32 440.53,71.11 440.99,71.07 441.44,70.73 441.89,70.49 442.35,70.65 442.80,70.41 443.25,70.71 443.71,70.98 444.16,70.05 444.61,69.61 445.07,70.05 445.52,69.93 445.97,69.88 446.43,69.78 446.88,69.71 447.33,69.60 447.79,69.76 447.88,69.41 448.24,69.00 448.69,69.82 449.15,69.64 449.60,69.17 450.05,68.97 450.51,69.12 450.96,68.95 451.41,67.37 451.87,67.80 452.32,68.74 452.77,68.35 453.23,68.30 453.68,68.68 454.13,69.02 454.59,68.21 454.95,67.79 455.04,67.42 455.49,67.59 455.95,68.02 456.40,66.85 456.85,67.11 457.31,68.27 457.76,68.01 458.21,67.71 458.67,67.40 459.12,67.31 459.57,67.78 460.03,67.72 460.48,66.62 460.93,66.25 461.39,67.92 461.84,68.33 462.02,67.72 462.29,67.70 462.75,67.86 463.20,67.83 463.65,67.86 464.11,68.56 464.56,69.17 465.01,70.75 465.47,71.99 465.92,72.86 466.37,74.09 466.83,75.90 467.28,76.96 467.64,77.82 467.73,78.61 468.19,80.75 468.64,82.74 469.09,84.52 469.55,87.05 470.00,88.37 470.45,89.14 470.73,90.63 470.91,91.33 471.36,93.24 471.81,95.56 472.27,98.59 472.72,100.89 473.17,100.89 473.63,101.26 474.08,101.79 474.53,102.79 474.99,104.67 475.44,106.75 475.89,107.15 476.35,107.39 476.80,108.21 477.25,109.20 477.62,110.19 477.71,110.80 478.16,111.62 478.61,112.18 479.07,113.11 479.52,113.72 479.97,114.76 480.43,115.69 480.88,116.55 481.33,117.31 481.79,118.04 482.24,119.34 482.69,120.57 482.87,120.21 483.15,120.55 483.60,121.61 484.05,122.27 484.51,123.58 484.96,124.76 485.41,125.37 485.87,125.87 486.32,126.54 486.77,127.83 487.05,128.71 487.23,128.56 487.68,128.42 488.13,129.68 488.59,130.59 489.04,130.57 489.49,131.12 489.95,131.65 490.40,132.22 490.85,132.12 491.31,132.68 491.76,133.58 492.12,134.01 492.21,134.45 492.67,134.72 493.12,134.88 493.57,135.63 494.03,135.90 494.48,136.04 494.93,136.12 495.39,136.39 495.84,137.12 496.29,136.98 496.75,136.83 497.20,137.21 497.65,137.66 498.11,138.41 498.56,139.06 499.01,139.44 499.19,139.14 499.47,139.24 499.92,140.37 500.37,140.78 500.83,141.13 501.28,141.43 501.73,141.73 502.19,142.54 502.46,142.35 502.64,142.38 503.00,143.76 503.09,144.73 503.55,149.67 503.91,155.29 504.00,155.36 504.45,154.93 504.91,155.48 505.36,155.14 505.81,155.26 506.27,154.62 506.72,153.84 507.17,154.30 507.63,154.36 508.08,154.43 508.53,154.27 508.99,153.32 509.44,153.57 509.89,153.83 510.35,153.06 510.80,152.42 511.25,151.87 511.71,152.16 512.16,152.64 512.61,152.18 513.07,151.88 513.52,151.94 513.97,151.31 514.43,150.51 514.88,150.58 515.33,150.99 515.79,150.72 516.24,151.07 516.69,151.08 517.15,150.64 517.33,149.82 517.60,149.33 518.05,150.14 518.51,150.53 518.96,151.48 519.41,151.30 519.87,150.11 520.32,150.67 520.77,151.08 521.23,150.73 521.68,151.54 522.13,151.58 522.59,150.78 523.04,151.11 523.49,151.66 523.95,151.59 524.40,152.17 524.85,152.49 525.31,151.79 525.76,152.32 526.21,152.44 526.67,152.29 527.12,153.37 527.57,153.38 528.03,153.14 528.48,153.11 528.93,153.28 529.39,153.16 529.84,153.14 530.29,153.46 530.75,153.53 531.20,153.85 531.65,153.40 532.11,153.34 532.56,153.94 533.01,154.51 533.47,154.13 533.92,153.62 534.37,154.19 534.83,154.46 535.28,154.79 535.73,155.29 536.19,155.33 536.64,155.01 537.09,154.77 537.55,155.11 538.00,154.98" stroke="#ff0000"/>
<polyline points="320.40,154.58 320.85,154.49 321.31,154.40 321.76,154.44 322.21,154.33 322.67,154.57 323.12,154.85 323.57,154.87 324.03,154.80 324.48,154.51 324.93,154.50 325.39,154.56 325.84,154.80 326.29,154.84 326.75,154.72 327.20,154.51 327.65,154.29 328.11,154.39 328.56,154.51 329.01,154.55 329.47,154.46 329.92,154.58 330.37,154.73 330.83,154.70 331.28,154.71 331.73,154.77 332.19,154.73 332.64,154.75 333.09,154.62 333.55,154.73 334.00,154.72 334.45,154.60 334.91,154.77 335.36,154.86 335.81,154.81 336.27,154.67 336.72,154.63 337.17,154.67 337.63,154.68 338.08,154.38 338.53,154.34 338.99,154.64 339.44,154.57 339.89,154.52 340.35,154.56 340.80,154.47 341.25,154.59 341.71,154.91 342.16,154.91 342.61,154.60 343.07,154.60 343.52,154.62 343.97,154.44 344.43,154.57 344.88,154.54 345.33,154.26 345.79,154.28 346.24,154.34 346.69,154.34 347.15,154.20 347.60,154.32 348.05,154.60 348.51,154.55 348.96,154.66 349.41,154.93 349.87,154.93 350.32,154.69 350.77,154.52 351.23,154.76 351.68,155.05 352.13,154.90 352.59,154.69 353.04,154.65 353.49,154.54 353.95,154.38 354.40,154.44 354.85,154.52 355.31,154.68 355.76,154.91 356.21,154.74 356.67,154.85 356.76,261.64 357.12,260.71 357.57,259.51 358.03,259.24 358.48,260.13 358.93,260.78 359.39,260.10 359.84,258.58 360.29,257.88 360.75,256.55 361.20,256.36 361.65,256.97 362.11,257.05 362.56,256.38 363.01,255.63 363.47,254.38 363.92,252.92 364.37,253.62 364.83,253.97 365.01,254.43 365.28,254.83 365.73,253.77 366.19,252.85 366.64,252.04 367.09,251.36 367.55,251.77 368.00,251.99 368.45,252.51 368.91,252.09 369.36,251.01 369.81,249.49 370.27,249.45 370.72,250.35 371.17,251.17 371.63,251.37 372.08,249.87 372.53,248.65 372.99,247.60 373.44,247.94 373.89,247.92 374.35,247.68 374.80,247.95 375.25,247.28 375.71,245.72 376.16,244.17 376.61,243.66 377.07,243.98 377.52,244.99 377.97,244.40 378.06,244.44 378.43,242.65 378.88,239.34 379.33,236.78 379.79,236.31 379.88,236.39 380.24,235.43 380.69,234.12 381.15,231.50 381.60,230.70 382.05,229.35 382.51,227.23 382.96,225.96 383.41,224.22 383.87,223.33 384.32,222.72 384.77,220.63 385.23,218.86 385.68,218.12 386.13,216.72 386.59,214.30 386.95,212.94 387.04,213.08 387.49,211.51 387.95,210.04 388.40,209.65 388.85,208.80 389.31,206.63 389.76,206.16 390.03,206.21 390.21,205.41 390.67,204.84 391.12,203.78 391.57,201.79 392.03,199.62 392.48,197.90 392.93,197.17 393.39,196.25 393.84,194.17 394.29,192.37 394.75,191.03 394.93,190.62 395.20,190.07 395.65,189.17 396.11,189.22 396.56,188.69 397.01,187.73 397.47,188.18 397.92,188.20 398.37,185.49 398.83,184.73 399.28,186.44 399.73,185.47 400.01,183.04 400.19,182.45 400.64,182.19 401.09,181.49 401.55,180.92 402.00,179.65 402.45,178.83 402.91,179.13 403.36,178.71 403.81,177.75 404.27,177.53 404.72,177.12 405.08,176.23 405.17,176.55 405.63,175.36 406.08,174.42 406.53,175.01 406.99,175.46 407.44,175.49 407.89,173.58 408.35,173.08 408.80,172.89 409.25,171.76 409.71,170.98 409.98,170.05 410.16,170.46 410.61,170.52 411.07,169.91 411.52,169.53 411.97,169.42 412.43,169.46 412.88,168.65 413.33,167.22 413.79,166.65 414.24,167.07 414.69,166.54 415.06,165.96 415.15,165.91 415.60,164.92 416.05,165.17 416.51,166.01 416.96,166.21 417.41,165.82 417.87,165.14 418.32,163.66 418.77,162.69 419.23,163.39 419.68,162.49 419.95,162.81 420.13,163.36 420.59,162.22 421.04,162.39 421.49,162.84 421.95,162.79 422.40,162.42 422.85,161.55 423.31,162.14 423.76,162.70 424.21,161.48 424.67,161.55 425.03,162.56 425.12,162.42 425.57,162.04 426.03,161.26 426.48,159.89 426.93,159.96 427.39,161.34 427.84,161.23 428.29,160.87 428.75,160.57 429.20,159.41 429.65,159.74 430.11,159.58 430.56,158.68 431.01,159.06 431.47,159.96 431.56,160.15 431.92,84.05 432.37,82.77 432.83,80.35 433.01,79.51 433.28,78.64 433.73,78.77 434.19,77.44 434.64,76.11 435.09,75.60 435.55,76.36 436.00,77.43 436.45,75.76 436.91,74.91 437.36,74.64 437.81,73.75 438.27,72.02 438.72,72.17 439.17,74.11 439.63,74.38 439.90,74.00 440.08,72.93 440.53,71.76 440.99,71.21 441.44,70.84 441.89,70.76 442.35,71.54 442.80,72.76 443.25,72.07 443.71,71.95 444.16,71.63 444.61,70.81 445.07,70.52 445.52,69.69 445.97,70.64 446.43,71.10 446.88,70.81 447.33,70.90 447.79,70.44 447.88,70.20 448.24,69.70 448.69,69.41 449.15,69.66 449.60,69.81 450.05,68.78 450.51,69.01 450.96,69.86 451.41,70.11 451.87,70.02 452.32,68.29 452.77,67.10 453.23,66.75 453.68,67.19 454.13,68.49 454.59,70.22 454.95,70.47 455.04,70.27 455.49,70.66 455.95,68.69 456.40,66.67 456.85,66.20 457.31,66.67 457.76,67.49 458.21,67.85 458.67,68.29 459.12,68.32 459.57,67.33 460.03,67.71 460.48,66.91 460.93,65.78 461.39,66.33 461.84,66.06 462.29,67.37 462.75,67.96 463.20,66.57 463.65,66.56 464.11,66.46 464.56,65.43 465.01,66.65 465.47,67.48 465.92,66.99 466.37,67.57 466.83,68.02 467.28,67.31 467.73,65.27 468.19,63.83 468.64,64.52 469.09,66.03 469.55,66.61 470.00,66.88 470.45,67.39 470.91,66.92 471.36,65.72 471.81,64.54 472.27,65.41 472.72,66.02 473.17,65.52 473.63,66.07 474.08,66.76 474.53,66.54 474.99,65.19 475.44,66.06 475.89,65.45 476.35,64.35 476.80,66.47 477.25,68.35 477.71,68.04 478.16,67.30 478.61,66.37 479.07,65.19 479.52,65.07 479.97,64.50 480.43,64.98 480.88,65.72 481.33,66.07 481.79,66.73 482.24,66.12 482.69,65.29 483.15,65.61 483.60,65.45 484.05,65.43 484.51,66.10 484.96,67.37 485.41,68.08 485.87,66.96 486.32,66.00 486.77,64.85 487.23,64.57 487.68,65.46 488.13,66.07 488.59,66.65 489.04,67.29 489.49,68.19 489.95,67.15 490.40,65.27 490.85,64.30 491.31,65.73 491.76,67.92 492.21,68.24 492.67,69.82 493.12,72.09 493.57,72.57 493.75,72.43 494.03,72.28 494.48,72.29 494.93,73.08 495.39,75.39 495.84,77.98 496.29,80.20 496.75,81.81 497.20,82.96 497.65,83.81 498.11,83.71 498.29,83.84 498.56,84.97 499.01,86.67 499.47,89.10 499.92,90.28 500.37,93.25 500.83,96.12 501.28,97.00 501.37,97.28 501.73,99.25 502.19,102.39 502.64,105.39 503.00,108.47 503.09,117.50 503.55,161.76 504.00,159.15 504.45,156.77 504.91,154.69 505.36,152.01 505.81,150.44 506.27,148.16 506.72,147.02 507.17,146.10 507.63,144.14 508.08,143.57 508.53,144.52 508.99,144.52 509.44,143.22 509.89,142.91 510.35,144.17 510.80,143.84 511.25,143.64 511.71,144.16 512.16,144.67 512.61,145.70 513.07,145.54 513.52,145.01 513.97,145.26 514.43,145.19 514.88,144.88 515.33,144.38 515.79,143.96 516.24,144.27 516.69,145.01 517.15,145.85 517.60,145.51 518.05,144.84 518.51,144.55 518.96,144.71 519.41,145.26 519.87,145.41 520.32,145.97 520.77,146.66 521.23,146.34 521.68,146.57 522.13,146.82 522.59,146.03 523.04,145.88 523.49,145.99 523.95,146.74 524.40,147.21 524.85,147.17 525.31,147.16 525.76,147.13 526.21,147.33 526.67,146.74 527.12,146.52 527.57,147.32 528.03,147.82 528.48,147.99 528.93,148.24 529.39,147.88 529.84,147.72 530.29,148.57 530.75,149.01 531.20,149.27 531.65,149.10 532.11,148.18 532.56,147.94 533.01,148.72 533.47,149.25 533.92,150.20 534.37,150.24 534.83,149.62 535.28,149.36 535.73,149.32 536.19,150.00 536.64,149.86 537.09,150.18 537.55,149.90 538.00,149.70" stroke="#00ff00"/>
<polyline points="320.40,154.32 320.85,154.60 321.31,154.71 321.76,154.32 322.21,154.27 322.67,154.23 323.12,154.17 323.57,154.21 324.03,154.51 324.48,154.44 324.93,154.32 325.39,154.44 325.84,154.52 326.29,154.39 326.75,154.27 327.20,154.42 327.65,154.56 328.11,154.72 328.56,154.46 329.01,154.26 329.47,154.31 329.92,154.23 330.37,154.15 330.83,154.01 331.28,154.21 331.73,154.22 332.19,154.38 332.64,154.41 333.09,154.47 333.55,154.59 334.00,154.27 334.45,154.29 334.91,154.46 335.36,154.59 335.81,154.59 336.27,154.36 336.72,154.20 337.17,154.37 337.63,154.64 338.08,154.52 338.53,154.54 338.99,154.70 339.44,154.61 339.89,154.45 340.35,154.32 340.80,154.36 341.25,154.35 341.71,154.50 342.16,154.46 342.61,154.20 343.07,154.27 343.52,154.37 343.97,154.38 344.43,154.33 344.88,154.23 345.33,154.25 345.79,154.29 346.24,154.20 346.69,154.29 347.15,154.53 347.60,154.56 348.05,154.44 348.51,154.45 348.96,154.61 349.41,154.44 349.87,154.21 350.32,154.23 350.77,154.71 351.23,154.90 351.68,154.70 352.13,154.73 352.59,154.65 353.04,154.27 353.49,154.26 353.95,154.58 354.40,154.45 354.85,154.35 355.31,154.42 355.76,154.52 356.21,154.53 356.67,153.58 356.76,249.80 357.12,249.82 357.57,248.57 358.03,248.12 358.48,249.69 358.93,251.40 359.39,250.10 359.84,248.93 360.29,247.75 360.75,245.35 361.20,245.89 361.65,246.91 362.11,247.86 362.56,248.34 363.01,246.28 363.47,245.88 363.92,245.49 364.37,244.74 364.83,245.20 365.01,244.65 365.28,244.93 365.73,247.26 366.19,247.04 366.64,245.51 367.09,244.60 367.55,241.91 368.00,242.66 368.45,244.36 368.91,244.99 369.36,245.19 369.81,243.43 370.27,242.57 370.72,241.55 371.17,240.51 371.63,241.74 372.08,243.48 372.53,244.40 372.99,243.09 373.44,241.47 373.89,241.45 374.35,240.31 374.80,238.84 375.25,239.51 375.71,241.16 376.16,241.70 376.61,241.05 377.07,240.42 377.52,239.38 377.97,238.29 378.43,240.06 378.88,239.41 379.33,238.66 379.79,240.04 380.06,239.88 380.24,239.87 380.69,238.12 381.15,236.65 381.60,236.82 382.05,238.29 382.51,239.20 382.96,238.37 383.41,238.06 383.87,237.49 384.32,236.16 384.77,234.84 385.23,235.07 385.68,236.46 386.13,238.14 386.59,238.60 387.04,237.13 387.49,236.42 387.95,235.04 388.40,234.04 388.85,235.58 389.31,236.72 389.76,235.68 390.03,235.44 390.21,236.41 390.67,234.44 391.12,233.60 391.57,234.98 392.03,236.09 392.48,236.53 392.93,236.35 393.39,236.01 393.84,236.23 394.29,235.04 394.75,233.45 395.20,233.05 395.65,233.11 396.11,233.93 396.56,235.08 397.01,235.42 397.47,234.88 397.92,233.71 398.37,231.52 398.83,231.18 399.28,231.27 399.73,232.11 400.01,233.60 400.19,233.67 400.64,233.30 401.09,233.65 401.55,233.75 402.00,233.36 402.45,228.58 402.91,225.95 403.36,223.37 403.81,220.35 404.27,215.52 404.54,213.52 404.72,214.67 405.17,213.08 405.63,209.67 406.08,208.45 406.53,209.43 406.99,208.56 407.08,207.41 407.44,204.54 407.89,202.13 408.35,201.71 408.80,201.17 409.25,199.29 409.71,197.18 409.98,196.87 410.16,196.30 410.61,194.86 411.07,191.92 411.52,191.41 411.97,190.77 412.43,188.71 412.88,187.17 413.33,185.49 413.79,184.56 414.24,183.16 414.69,182.54 415.15,181.52 415.60,181.86 416.05,181.16 416.51,179.31 416.96,178.52 417.05,177.11 417.41,176.03 417.87,175.00 418.32,176.51 418.77,178.16 419.23,175.73 419.68,175.54 420.13,176.00 420.59,173.73 421.04,172.28 421.49,173.32 421.95,172.86 422.40,171.34 422.85,171.32 423.31,171.80 423.76,171.73 424.21,172.65 424.67,172.64 425.12,172.00 425.57,171.37 426.03,169.99 426.48,170.39 426.93,169.81 427.02,168.90 427.39,169.41 427.84,169.26 428.29,169.54 428.75,170.31 429.20,170.14 429.65,169.65 430.11,168.60 430.56,169.79 431.01,170.42 431.47,169.93 431.56,170.09 431.92,82.77 432.37,82.24 432.83,81.51 433.28,81.16 433.73,84.23 434.19,84.65 434.64,79.67 435.09,76.22 435.55,76.65 435.73,79.21 436.00,77.41 436.45,78.16 436.91,80.14 437.36,78.45 437.81,78.75 438.27,79.33 438.72,79.29 439.17,76.53 439.63,75.97 439.90,77.90 440.08,77.25 440.53,76.22 440.99,76.68 441.44,77.85 441.89,77.56 442.35,77.09 442.80,78.17 443.25,77.32 443.71,75.70 444.16,75.24 444.61,76.64 445.07,77.84 445.52,76.15 445.97,74.89 446.43,75.33 446.88,75.85 447.33,74.95 447.79,73.64 448.24,72.11 448.69,72.05 449.15,74.42 449.60,74.74 449.87,76.24 450.05,76.78 450.51,75.73 450.96,76.17 451.41,74.78 451.87,74.20 452.32,75.52 452.77,75.40 453.23,74.47 453.68,74.52 454.13,73.80 454.59,75.06 455.04,75.09 455.49,72.97 455.95,73.41 456.40,73.45 456.85,74.08 457.31,74.78 457.76,72.51 458.21,74.04 458.67,75.79 459.12,75.35 459.57,74.17 460.03,71.92 460.48,73.14 460.93,73.67 461.39,75.10 461.84,73.99 462.29,71.64 462.75,71.63 463.20,74.64 463.65,76.00 464.11,74.34 464.56,76.69 465.01,76.57 465.47,73.75 465.92,71.90 466.37,71.56 466.83,73.24 467.28,73.45 467.73,73.50 468.19,74.97 468.64,75.73 469.09,74.54 469.55,73.00 470.00,70.97 470.45,71.10 470.91,71.59 471.36,71.28 471.81,72.12 472.27,73.74 472.72,76.10 473.17,75.09 473.63,72.99 474.08,72.10 474.53,71.79 474.99,71.40 475.44,71.58 475.89,72.13 476.35,74.03 476.80,74.17 477.25,73.67 477.71,72.07 478.16,71.87 478.61,72.97 479.07,72.67 479.52,71.78 479.97,71.11 480.43,72.02 480.88,74.46 481.33,76.93 481.79,75.24 482.24,72.70 482.69,71.12 483.15,73.04 483.60,74.17 484.05,74.52 484.51,75.72 484.96,74.80 485.41,73.45 485.87,74.00 486.32,75.16 486.77,74.55 487.23,72.27 487.68,69.28 488.13,71.85 488.59,74.83 489.04,74.24 489.49,73.34 489.95,72.99 490.40,72.56 490.85,73.50 491.31,74.51 491.76,73.57 492.21,74.19 492.67,74.20 493.12,74.74 493.57,73.00 494.03,71.95 494.48,75.40 494.93,75.94 495.39,72.93 495.84,72.39 496.29,72.95 496.75,71.71 497.20,71.79 497.65,72.62 498.11,74.73 498.56,76.76 499.01,78.75 499.47,78.23 499.92,76.43 500.37,76.73 500.83,76.99 501.28,78.33 501.73,77.03 502.19,77.43 502.64,81.51 503.00,82.45 503.09,102.57 503.37,163.40 503.55,163.28 504.00,162.99 504.45,162.70 504.91,162.40 505.36,162.11 505.81,161.82 506.27,161.53 506.72,161.23 507.17,160.94 507.63,160.65 508.08,160.36 508.53,160.06 508.99,159.77 509.44,159.48 509.89,159.19 510.35,158.89 510.80,158.60 511.25,158.31 511.71,158.02 512.16,157.72 512.61,157.43 513.07,157.14 513.52,156.85 513.97,156.55 514.43,156.26 514.88,155.97 515.33,155.68 515.79,155.38 516.24,155.09 516.69,154.80 516.97,154.62 517.15,150.35 517.51,141.81 517.60,141.97 518.05,142.74 518.51,143.52 518.96,144.29 519.41,145.07 519.87,145.85 520.32,146.13 520.77,146.42 521.23,146.70 521.68,146.99 522.13,147.27 522.59,147.56 523.04,147.84 523.49,148.13 523.95,148.25 524.40,148.36 524.85,148.48 525.31,148.60 525.76,148.71 526.21,148.83 526.67,148.95 527.12,149.06 527.57,149.18 528.03,149.30 528.48,149.42 528.93,149.53 529.39,149.57 529.84,149.61 530.29,149.65 530.75,149.69 531.20,149.73 531.65,149.77 532.11,149.81 532.56,149.85 533.01,149.88 533.47,149.92 533.92,149.96 534.37,150.00 534.83,150.04 535.28,150.08 535.73,150.12 536.19,150.16 536.64,150.20 537.09,150.24 537.55,150.24 538.00,150.24" stroke="#0000ff"/>
<polyline points="320.40,154.05 320.85,154.31 321.31,154.59 321.76,154.84 322.21,154.68 322.67,154.16 323.12,154.11 323.57,154.20 324.03,154.08 324.48,154.25 324.93,154.05 325.39,154.05 325.84,154.33 326.29,153.88 326.75,153.94 327.20,154.27 327.65,154.32 328.11,154.29 328.56,154.50 329.01,154.62 329.47,154.14 329.92,154.03 330.37,154.28 330.83,154.25 331.28,154.17 331.73,154.20 332.19,154.18 332.64,154.41 333.09,154.41 333.55,154.28 334.00,154.26 334.45,154.18 334.91,154.40 335.36,154.41 335.81,154.41 336.27,154.27 336.72,154.15 337.17,154.17 337.63,154.30 338.08,154.21 338.53,154.11 338.99,154.14 339.44,153.99 339.89,154.30 340.35,154.37 340.80,154.30 341.25,154.29 341.71,154.04 342.16,154.01 342.61,154.05 343.07,154.28 343.52,154.39 343.97,154.20 344.43,154.09 344.88,154.21 345.33,154.28 345.79,154.15 346.24,154.41 346.69,154.59 347.15,154.35 347.60,154.36 348.05,154.57 348.51,154.31 348.96,154.12 349.41,154.27 349.87,154.29 350.32,154.31 350.77,154.39 351.23,154.40 351.68,154.28 352.13,154.06 352.59,154.16 353.04,154.34 353.49,154.31 353.95,154.46 354.40,154.40 354.85,154.13 355.31,154.27 355.76,154.27 356.21,154.24 356.67,155.00 356.76,221.80 357.12,221.80 357.57,222.53 358.03,221.43 358.48,220.01 358.93,220.50 359.39,219.90 359.84,218.43 360.29,218.37 360.75,218.73 361.20,218.64 361.65,217.78 362.11,216.44 362.56,214.92 363.01,214.54 363.47,214.96 363.92,214.78 364.37,214.97 364.83,213.73 365.28,212.34 365.73,212.04 366.19,211.22 366.64,210.07 367.09,209.49 367.55,209.83 367.73,209.83 368.00,210.08 368.45,210.77 368.91,210.00 369.36,208.02 369.81,206.39 370.27,206.06 370.72,204.21 371.17,203.67 371.63,204.31 372.08,203.21 372.53,202.50 372.99,201.14 373.44,200.41 373.89,199.66 374.35,197.97 374.80,198.28 375.25,198.13 375.71,198.66 376.16,200.06 376.61,199.69 377.07,198.15 377.52,197.50 377.97,197.65 378.43,196.68 378.88,196.09 379.33,196.92 379.79,198.80 380.24,199.09 380.69,197.90 381.15,197.46 381.60,197.08 382.05,197.17 382.51,196.80 382.96,196.24 383.41,196.46 383.87,196.90 384.32,197.38 384.77,197.87 385.23,197.38 385.68,197.19 386.13,197.34 386.59,195.58 387.04,195.32 387.49,197.55 387.95,198.25 388.40,198.01 388.85,198.32 389.31,197.40 389.76,196.33 390.21,195.10 390.67,196.00 391.12,197.59 391.57,197.42 392.03,198.77 392.48,198.46 392.93,195.87 393.39,196.30 393.84,196.49 394.29,195.71 394.75,195.98 395.20,196.74 395.65,196.96 396.11,197.77 396.56,197.65 397.01,196.20 397.47,195.02 397.92,195.57 398.37,196.41 398.83,196.64 399.28,197.19 399.73,196.76 400.19,197.73 400.64,198.74 401.09,198.61 401.55,197.09 402.00,194.81 402.45,193.82 402.91,195.05 403.36,196.79 403.81,197.55 404.27,198.39 404.72,198.80 405.17,196.77 405.63,195.45 406.08,195.29 406.53,195.05 406.99,195.02 407.44,194.58 407.89,196.30 408.35,197.85 408.80,197.30 409.25,195.77 409.71,194.10 410.16,194.42 410.61,193.82 411.07,194.17 411.52,196.71 411.97,198.43 412.43,198.26 412.88,196.37 413.33,196.06 413.79,195.48 414.24,193.92 414.69,194.40 415.15,195.15 415.60,194.74 416.05,195.49 416.51,196.96 416.96,196.44 417.41,195.25 417.87,193.73 418.32,193.72 418.77,196.27 419.23,196.41 419.68,195.91 420.13,196.87 420.59,196.72 421.04,195.75 421.49,194.83 421.95,194.92 422.40,195.57 422.85,195.67 423.31,196.12 423.76,195.95 424.21,195.89 424.67,196.38 425.12,195.29 425.57,194.43 426.03,194.17 426.48,193.80 426.93,195.00 427.39,196.09 427.84,196.56 428.29,197.66 428.75,197.39 429.20,195.74 429.65,194.81 430.11,195.26 430.56,192.87 431.01,192.22 431.38,192.65 431.47,190.45 431.92,184.06 432.10,182.55 432.37,134.10 432.46,117.42 432.83,116.17 433.28,114.87 433.73,113.98 434.19,112.81 434.64,112.24 435.09,112.52 435.55,113.17 436.00,113.99 436.45,113.91 436.91,113.22 437.36,112.35 437.81,111.11 438.27,110.89 438.72,111.82 439.17,112.22 439.63,112.46 440.08,113.25 440.53,113.30 440.99,112.42 441.44,111.69 441.89,110.87 442.35,109.99 442.80,110.17 443.25,110.69 443.71,111.92 444.16,112.26 444.61,111.32 445.07,111.12 445.52,110.37 445.97,109.67 446.43,109.88 446.88,110.59 447.33,110.49 447.79,110.92 448.24,112.04 448.69,111.45 449.15,110.95 449.60,110.09 450.05,109.02 450.51,108.57 450.96,109.75 451.41,110.59 451.87,110.83 452.32,112.39 452.77,111.56 453.23,109.79 453.68,109.02 454.13,108.72 454.59,109.31 455.04,110.72 455.49,111.38 455.95,111.41 456.40,112.05 456.85,111.32 457.31,110.51 457.76,109.14 458.21,108.59 458.67,110.17 459.12,111.17 459.57,111.73 460.03,111.73 460.48,111.57 460.93,111.09 461.39,110.09 461.84,109.09 462.29,108.43 462.75,109.25 463.20,110.88 463.65,111.60 464.11,112.08 464.56,111.46 465.01,110.61 465.47,110.22 465.92,109.31 466.37,109.44 466.83,110.26 467.28,110.22 467.73,110.99 468.19,112.03 468.64,111.19 469.09,110.62 469.55,110.04 470.00,108.97 470.45,109.01 470.91,109.84 471.36,110.47 471.81,111.53 472.27,112.43 472.72,110.76 473.17,109.19 473.63,109.13 474.08,108.53 474.53,108.45 474.99,109.15 475.44,110.32 475.89,111.78 476.35,112.31 476.80,111.21 477.25,109.67 477.71,108.38 478.16,108.15 478.61,109.33 479.07,109.58 479.52,109.54 479.97,110.92 480.43,111.38 480.88,110.32 481.33,109.84 481.79,109.25 482.24,108.70 482.69,109.31 483.15,110.39 483.60,111.10 484.05,111.08 484.51,110.52 484.96,109.79 485.41,109.20 485.87,108.66 486.32,107.88 486.77,108.70 487.23,109.97 487.68,110.23 488.13,110.98 488.59,111.16 489.04,110.62 489.49,109.62 489.95,108.77 490.40,108.79 490.85,109.14 491.31,109.49 491.76,110.35 492.21,111.24 492.67,110.34 493.12,109.18 493.57,108.09 494.03,107.86 494.48,108.88 494.93,108.96 495.39,109.97 495.84,111.03 496.29,110.88 496.75,110.22 497.20,109.85 497.65,109.13 498.11,108.57 498.56,108.80 499.01,109.20 499.47,110.23 499.92,110.79 500.37,110.75 500.83,109.98 501.28,109.18 501.73,108.60 502.19,108.16 502.64,109.11 503.09,110.15 503.55,110.78 504.00,111.48 504.45,111.32 504.91,110.48 505.00,109.69 505.36,163.06 505.81,163.00 506.27,162.59 506.72,161.90 507.17,160.86 507.63,161.44 508.08,162.19 508.53,161.94 508.99,161.31 509.44,160.45 509.89,160.31 510.35,159.70 510.80,159.16 511.25,160.04 511.71,160.58 512.16,159.31 512.61,159.22 513.07,158.89 513.52,157.56 513.97,157.80 514.43,157.98 514.88,156.82 515.33,155.53 515.79,155.22 516.24,155.47 516.69,156.02 517.15,156.13 517.33,155.70 517.60,140.58 517.69,135.31 518.05,136.02 518.51,137.36 518.96,137.47 519.41,138.40 519.87,139.62 520.32,140.31 520.77,141.64 521.23,142.57 521.68,143.37 522.13,142.76 522.59,142.85 523.04,144.51 523.49,144.30 523.95,143.95 524.40,144.91 524.85,144.95 525.31,145.85 525.76,145.61 526.21,144.77 526.67,145.55 527.12,145.96 527.57,146.00 528.03,146.42 528.48,146.50 528.93,147.17 529.39,147.48 529.84,147.39 530.29,146.77 530.75,147.25 531.20,147.44 531.65,146.58 532.11,146.95 532.56,147.39 533.01,146.88 533.47,146.35 533.92,147.29 534.37,148.15 534.83,148.31 535.28,147.58 535.73,147.94 536.19,148.54 536.64,147.73 537.09,148.23 537.55,148.82 538.00,148.03" stroke="#ff00ff"/>
<polyline points="320.40,154.82 320.85,155.09 321.31,154.87 321.76,154.81 322.21,154.80 322.67,154.63 323.12,154.88 323.57,154.85 324.03,154.75 324.48,154.61 324.93,154.44 325.39,154.77 325.84,154.84 326.29,154.75 326.75,154.73 327.20,154.58 327.65,154.56 328.11,154.52 328.56,154.51 329.01,154.74 329.47,155.01 329.92,155.18 330.37,154.97 330.83,154.69 331.28,154.53 331.73,154.69 332.19,154.87 332.64,154.89 333.09,154.95 333.55,155.14 334.00,154.99 334.45,154.80 334.91,154.90 335.36,154.75 335.81,154.70 336.27,154.92 336.72,154.77 337.17,154.51 337.63,154.64 338.08,154.82 338.53,155.08 338.99,155.20 339.44,155.03 339.89,154.80 340.35,154.87 340.80,154.66 341.25,154.53 341.71,154.64 342.16,154.56 342.61,154.82 343.07,154.81 343.52,154.62 343.97,154.90 344.43,154.87 344.88,154.57 345.33,154.54 345.79,154.54 346.24,154.84 346.69,155.01 347.15,154.90 347.60,154.86 348.05,154.78 348.51,154.64 348.96,154.56 349.41,154.81 349.87,154.79 350.32,154.48 350.77,154.56 351.23,154.95 351.68,155.07 352.13,154.90 352.59,155.02 353.04,155.02 353.49,154.97 353.95,154.86 354.40,154.61 354.85,154.72 355.31,154.96 355.76,154.92 356.21,154.84 356.67,155.66 356.76,228.63 357.12,227.77 357.57,228.05 358.03,226.71 358.48,224.92 358.93,224.45 359.39,225.01 359.84,224.52 360.29,224.04 360.75,222.86 361.20,220.36 361.65,220.65 362.11,221.36 362.56,221.87 363.01,222.66 363.47,221.60 363.92,221.22 364.37,220.28 364.83,218.22 365.28,217.12 365.73,215.69 366.19,214.64 366.64,215.06 367.09,215.56 367.55,214.80 367.73,215.61 368.00,216.14 368.45,216.09 368.91,214.31 369.36,211.18 369.81,210.22 370.27,209.58 370.72,208.92 371.17,209.59 371.63,210.43 372.08,210.46 372.53,209.21 372.99,207.27 373.44,206.24 373.89,206.00 374.35,206.17 374.80,205.59 375.25,206.32 375.71,206.89 376.16,204.76 376.61,203.06 377.07,201.58 377.52,200.97 377.97,201.23 378.43,201.75 378.88,201.05 379.33,200.36 379.79,200.98 380.24,200.90 380.69,200.83 381.15,198.94 381.60,197.49 382.05,197.94 382.51,197.21 382.96,198.64 383.41,200.39 383.87,199.18 384.32,197.72 384.77,197.85 385.23,197.58 385.68,196.67 386.13,197.40 386.59,197.29 387.04,197.30 387.49,197.31 387.95,196.87 388.40,196.02 388.85,196.16 389.31,196.11 389.76,196.00 390.21,197.63 390.67,198.07 391.12,197.19 391.57,196.74 392.03,197.64 392.48,196.35 392.93,194.22 393.39,194.40 393.84,194.85 394.29,195.21 394.75,196.22 395.20,195.34 395.65,195.36 396.11,196.15 396.56,195.40 397.01,195.11 397.47,194.88 397.92,194.42 398.37,195.16 398.83,196.50 399.28,196.82 399.73,196.12 400.19,195.67 400.64,196.13 401.09,194.82 401.55,194.34 402.00,195.03 402.45,194.45 402.91,194.59 403.36,195.64 403.81,195.13 404.27,194.83 404.72,195.47 405.17,195.67 405.63,194.75 406.08,193.95 406.53,194.91 406.99,194.76 407.44,194.36 407.89,194.80 408.35,195.50 408.80,195.30 409.25,193.85 409.71,194.83 410.16,195.61 410.61,195.15 411.07,196.67 411.52,196.80 411.97,194.32 412.43,193.60 412.88,194.66 413.33,194.66 413.79,193.40 414.24,194.27 414.69,195.24 415.15,195.29 415.60,195.93 416.05,194.45 416.51,194.84 416.96,194.54 417.41,192.95 417.87,193.75 418.32,195.38 418.77,195.69 419.23,195.52 419.68,197.69 420.13,197.66 420.59,196.10 421.04,195.33 421.49,194.42 421.95,194.62 422.40,193.94 422.85,193.40 423.31,194.87 423.76,194.79 424.21,192.96 424.67,192.90 425.12,194.28 425.57,193.77 426.03,192.74 426.48,194.06 426.93,195.41 427.39,194.86 427.84,194.06 428.29,193.54 428.75,193.42 429.20,193.41 429.65,193.58 430.11,193.47 430.56,193.17 431.01,194.55 431.47,196.01 431.92,194.68 432.37,193.15 432.83,193.72 433.28,194.64 433.73,194.00 434.19,193.15 434.64,193.22 435.00,118.10 435.09,118.93 435.55,119.37 436.00,117.79 436.45,116.81 436.91,114.63 437.36,113.17 437.81,113.54 438.27,113.84 438.72,114.33 439.17,114.50 439.63,115.16 440.08,114.73 440.53,113.98 440.99,113.49 441.44,112.60 441.89,112.50 442.35,113.06 442.80,113.88 443.25,115.11 443.71,114.99 444.16,113.55 444.61,112.37 445.07,111.82 445.52,111.93 445.97,112.95 446.43,113.35 446.88,113.40 447.33,113.75 447.79,114.09 448.24,113.62 448.69,112.08 449.15,111.16 449.60,111.13 450.05,111.98 450.51,113.08 450.96,114.11 451.41,114.49 451.87,113.25 452.32,112.00 452.77,111.70 453.23,111.14 453.68,110.80 454.13,111.34 454.59,112.40 455.04,113.40 455.49,113.59 455.95,113.36 456.40,112.95 456.85,111.75 457.31,110.87 457.76,110.91 458.21,111.57 458.67,112.13 459.12,112.58 459.57,113.22 460.03,112.24 460.48,111.78 460.93,111.81 461.39,110.83 461.84,111.42 462.29,112.70 462.75,113.58 463.20,113.46 463.65,113.40 464.11,113.46 464.56,111.94 465.01,110.68 465.47,110.49 465.92,111.60 466.37,112.29 466.83,112.86 467.28,113.58 467.73,113.30 468.19,112.72 468.64,111.92 469.09,111.41 469.55,111.16 470.00,111.83 470.45,112.29 470.91,112.53 471.36,113.12 471.81,113.52 472.27,112.51 472.72,111.24 473.17,111.10 473.63,110.88 474.08,111.57 474.53,111.88 474.99,112.53 475.44,113.54 475.89,112.57 476.35,111.53 476.80,111.42 477.25,111.49 477.71,111.89 478.16,112.82 478.61,112.83 479.07,112.92 479.52,113.46 479.97,112.66 480.43,111.83 480.88,110.83 481.33,109.67 481.79,110.70 482.24,111.48 482.69,111.60 483.15,113.03 483.60,113.46 484.05,112.62 484.51,112.48 484.96,111.61 485.41,110.86 485.87,111.55 486.32,112.08 486.77,112.91 487.23,113.04 487.68,112.77 488.13,112.55 488.59,111.79 489.04,110.60 489.49,109.91 489.95,111.10 490.40,111.76 490.85,112.26 491.31,113.50 491.76,112.66 492.21,111.56 492.67,110.99 493.12,110.42 493.57,111.03 494.03,111.64 494.48,111.61 494.93,112.50 495.39,112.86 495.84,112.07 496.29,111.35 496.75,110.29 497.20,110.30 497.65,111.06 498.11,111.65 498.56,112.12 499.01,112.52 499.47,113.13 499.92,112.95 500.37,111.36 500.83,110.30 501.28,110.15 501.73,110.02 502.19,110.79 502.64,112.77 503.09,113.36 503.55,112.98 504.00,112.10 504.45,111.74 504.91,111.27 505.36,109.73 505.81,110.04 506.27,110.70 506.72,111.56 506.99,111.25 507.17,136.24 507.35,161.24 507.63,160.90 508.08,159.94 508.53,159.83 508.99,160.49 509.44,161.00 509.89,160.63 510.35,159.38 510.80,159.17 511.25,160.17 511.71,160.41 512.16,159.79 512.61,159.78 513.07,160.03 513.52,159.74 513.97,159.65 514.43,158.48 514.88,158.43 515.33,159.10 515.79,158.40 516.24,158.60 516.69,159.24 517.15,159.02 517.60,158.62 518.05,158.40 518.51,158.32 518.96,158.19 519.41,158.04 519.87,157.28 520.32,157.53 520.77,157.93 521.23,157.79 521.68,158.21 522.13,158.32 522.59,157.60 523.04,157.41 523.49,157.29 523.67,156.95 523.95,137.48 524.04,131.41 524.40,132.78 524.85,133.29 525.31,134.82 525.76,136.74 526.21,138.05 526.67,138.18 527.12,138.74 527.57,138.84 528.03,139.47 528.48,140.39 528.93,140.63 529.39,141.43 529.84,142.60 530.29,142.69 530.75,142.94 531.20,144.09 531.65,144.30 532.11,143.81 532.56,144.55 533.01,145.69 533.47,145.58 533.92,145.49 534.37,145.62 534.83,145.28 535.28,145.02 535.73,145.05 536.19,145.35 536.64,145.35 537.09,146.18 537.55,146.43 538.00,146.00" stroke="#00ffff"/>
</g>
<path d="M356.67 249.92V261.68" stroke="#00ff00" stroke-width="0.85" fill="none"/>
<path d="M356.67 228.86V249.92" stroke="#0000ff" stroke-width="0.85" fill="none"/>
<path d="M70.17 155.50V210.78M356.67 154.62V228.86" stroke="#00ffff" stroke-width="0.85" fill="none"/>
<path d="M33.90 50.20V260.80H251.50" stroke="#a6a6a6" stroke-width="1" fill="none"/>
<path d="M33.90 260.80v-2.2M70.17 260.80v-2.2M106.43 260.80v-2.2M142.70 260.80v-2.2M178.97 260.80v-2.2M215.23 260.80v-2.2M251.50 260.80v-2.2M33.90 260.80h2.2M33.90 225.70h2.2M33.90 190.60h2.2M33.90 155.50h2.2M33.90 120.40h2.2M33.90 85.30h2.2M33.90 50.20h2.2" stroke="#a6a6a6" stroke-width="0.8" fill="none"/>
<text x="34.00" y="273.8" text-anchor="middle" class="tl">-200</text>
<text x="70.27" y="273.8" text-anchor="middle" class="tl">0</text>
<text x="106.53" y="273.8" text-anchor="middle" class="tl">200</text>
<text x="142.80" y="273.8" text-anchor="middle" class="tl">400</text>
<text x="179.07" y="273.8" text-anchor="middle" class="tl">600</text>
<text x="215.33" y="273.8" text-anchor="middle" class="tl">800</text>
<text x="251.60" y="273.8" text-anchor="middle" class="tl">1000</text>
<text x="30.30" y="264.20" text-anchor="end" class="tl">-6</text>
<text x="30.30" y="229.10" text-anchor="end" class="tl">-4</text>
<text x="30.30" y="194.00" text-anchor="end" class="tl">-2</text>
<text x="30.30" y="158.90" text-anchor="end" class="tl">0</text>
<text x="30.30" y="123.80" text-anchor="end" class="tl">2</text>
<text x="30.30" y="88.70" text-anchor="end" class="tl">4</text>
<text x="30.30" y="53.60" text-anchor="end" class="tl">6</text>
<path d="M320.40 50.20V260.80H538.00" stroke="#a6a6a6" stroke-width="1" fill="none"/>
<path d="M320.40 260.80v-2.2M356.67 260.80v-2.2M392.93 260.80v-2.2M429.20 260.80v-2.2M465.47 260.80v-2.2M501.73 260.80v-2.2M538.00 260.80v-2.2M320.40 260.80h2.2M320.40 225.70h2.2M320.40 190.60h2.2M320.40 155.50h2.2M320.40 120.40h2.2M320.40 85.30h2.2M320.40 50.20h2.2" stroke="#a6a6a6" stroke-width="0.8" fill="none"/>
<text x="320.50" y="273.8" text-anchor="middle" class="tl">-200</text>
<text x="356.77" y="273.8" text-anchor="middle" class="tl">0</text>
<text x="393.03" y="273.8" text-anchor="middle" class="tl">200</text>
<text x="429.30" y="273.8" text-anchor="middle" class="tl">400</text>
<text x="465.57" y="273.8" text-anchor="middle" class="tl">600</text>
<text x="501.83" y="273.8" text-anchor="middle" class="tl">800</text>
<text x="538.10" y="273.8" text-anchor="middle" class="tl">1000</text>
<text x="316.80" y="264.20" text-anchor="end" class="tl">-6</text>
<text x="316.80" y="229.10" text-anchor="end" class="tl">-4</text>
<text x="316.80" y="194.00" text-anchor="end" class="tl">-2</text>
<text x="316.80" y="158.90" text-anchor="end" class="tl">0</text>
<text x="316.80" y="123.80" text-anchor="end" class="tl">2</text>
<text x="316.80" y="88.70" text-anchor="end" class="tl">4</text>
<text x="316.80" y="53.60" text-anchor="end" class="tl">6</text>
<rect x="53.30" y="68.50" width="70.40" height="68.10" fill="#fff" stroke="#a0a0a0" stroke-width="0.9"/>
<line x1="55.90" x2="81.70" y1="75.90" y2="75.90" stroke="#ff0000" stroke-width="0.75" stroke-opacity="0.7"/>
<text x="83.70" y="77.70" class="lg">V<tspan class="lgs" dy="3.6">MAX</tspan><tspan dy="-3.6">=20V</tspan></text>
<line x1="55.90" x2="81.70" y1="89.35" y2="89.35" stroke="#00ff00" stroke-width="0.75" stroke-opacity="0.7"/>
<text x="83.70" y="91.15" class="lg">V<tspan class="lgs" dy="3.6">MAX</tspan><tspan dy="-3.6">=30V</tspan></text>
<line x1="55.90" x2="81.70" y1="102.80" y2="102.80" stroke="#0000ff" stroke-width="0.75" stroke-opacity="0.7"/>
<text x="83.70" y="104.60" class="lg">V<tspan class="lgs" dy="3.6">MAX</tspan><tspan dy="-3.6">=40V</tspan></text>
<line x1="55.90" x2="81.70" y1="116.25" y2="116.25" stroke="#ff00ff" stroke-width="0.75" stroke-opacity="0.7"/>
<text x="83.70" y="118.05" class="lg">V<tspan class="lgs" dy="3.6">MAX</tspan><tspan dy="-3.6">=50V</tspan></text>
<line x1="55.90" x2="81.70" y1="129.70" y2="129.70" stroke="#00ffff" stroke-width="0.75" stroke-opacity="0.7"/>
<text x="83.70" y="131.50" class="lg">V<tspan class="lgs" dy="3.6">MAX</tspan><tspan dy="-3.6">=60V</tspan></text>
<rect x="448.40" y="173.70" width="70.30" height="69.10" fill="#fff" stroke="#a0a0a0" stroke-width="0.9"/>
<line x1="451.00" x2="476.80" y1="181.10" y2="181.10" stroke="#ff0000" stroke-width="0.75" stroke-opacity="0.7"/>
<text x="478.80" y="182.90" class="lg">V<tspan class="lgs" dy="3.6">MAX</tspan><tspan dy="-3.6">=20V</tspan></text>
<line x1="451.00" x2="476.80" y1="194.55" y2="194.55" stroke="#00ff00" stroke-width="0.75" stroke-opacity="0.7"/>
<text x="478.80" y="196.35" class="lg">V<tspan class="lgs" dy="3.6">MAX</tspan><tspan dy="-3.6">=30V</tspan></text>
<line x1="451.00" x2="476.80" y1="208.00" y2="208.00" stroke="#0000ff" stroke-width="0.75" stroke-opacity="0.7"/>
<text x="478.80" y="209.80" class="lg">V<tspan class="lgs" dy="3.6">MAX</tspan><tspan dy="-3.6">=40V</tspan></text>
<line x1="451.00" x2="476.80" y1="221.45" y2="221.45" stroke="#ff00ff" stroke-width="0.75" stroke-opacity="0.7"/>
<text x="478.80" y="223.25" class="lg">V<tspan class="lgs" dy="3.6">MAX</tspan><tspan dy="-3.6">=50V</tspan></text>
<line x1="451.00" x2="476.80" y1="234.90" y2="234.90" stroke="#00ffff" stroke-width="0.75" stroke-opacity="0.7"/>
<text x="478.80" y="236.70" class="lg">V<tspan class="lgs" dy="3.6">MAX</tspan><tspan dy="-3.6">=60V</tspan></text>
<text x="274.8" y="14.6" text-anchor="middle" class="ttl ttl1">1mm OECT currents vs. V<tspan class="sub" dy="6.9">MAX</tspan></text>
<text x="274.6" y="35.7" text-anchor="middle" class="ttl">I<tspan class="sub" dy="6.8">STIM</tspan><tspan dy="-6.8"> = 5 mA, V</tspan><tspan class="sub" dy="6.8">MAX</tspan><tspan dy="-6.8"> = 20V, 30V, 40V, 60V, F=30Hz, G</tspan><tspan class="sub" dy="6.8">1</tspan><tspan dy="-6.8"> = 1, G</tspan><tspan class="sub" dy="6.8">2</tspan><tspan dy="-6.8"> = 0</tspan></text>
<text x="142.9" y="285.5" text-anchor="middle" class="al">t [us]</text>
<text x="429.4" y="285.5" text-anchor="middle" class="al">t [us]</text>
<text transform="translate(14.1,155.5) rotate(-90)" text-anchor="middle" class="al yl">i<tspan class="als" dy="4.6">1</tspan><tspan dy="-4.6"> [mA]</tspan></text>
<text transform="translate(300.4,155.5) rotate(-90)" text-anchor="middle" class="al yl">i<tspan class="als" dy="4.6">2</tspan><tspan dy="-4.6"> [mA]</tspan></text>
</g>
</svg>
</body></html>
